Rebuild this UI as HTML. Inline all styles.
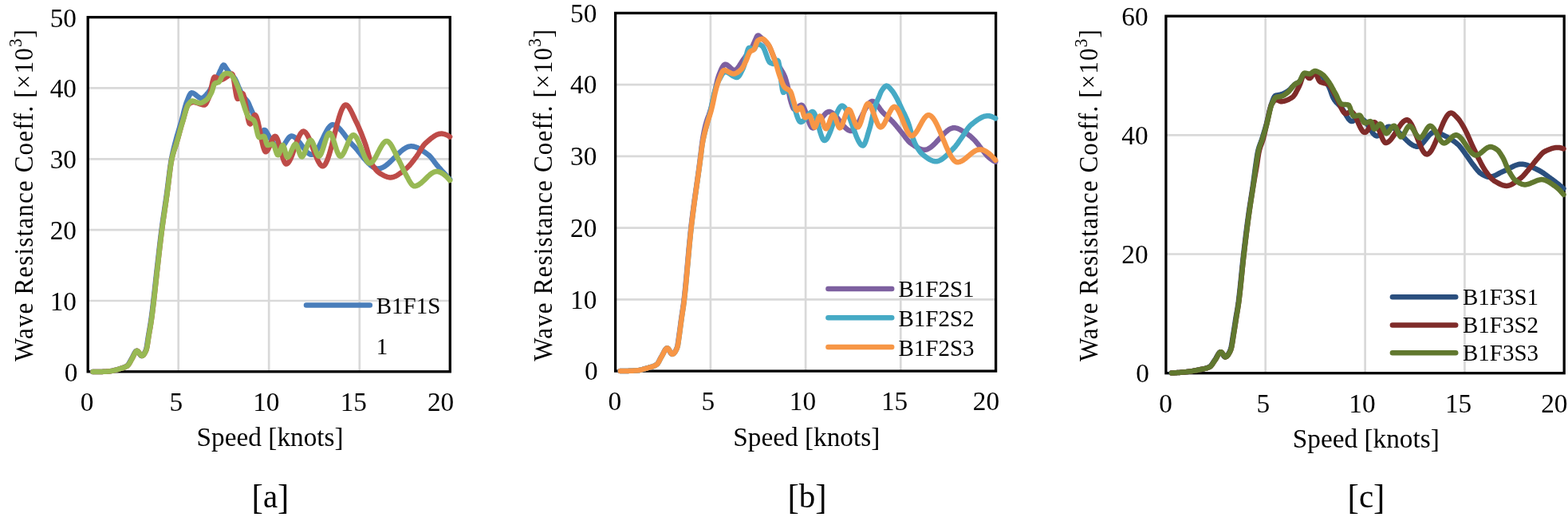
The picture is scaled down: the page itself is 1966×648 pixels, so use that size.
<!DOCTYPE html>
<html><head><meta charset="utf-8"><title>Wave Resistance Coefficient</title>
<style>
html,body{margin:0;padding:0;background:#fff;}
body{width:1966px;height:648px;overflow:hidden;}
svg{display:block;}
text{font-family:"Liberation Serif",serif;fill:#000;}
.tk{font-size:33.3px;}
.ti{font-size:33.3px;}
.yt{font-size:31.7px;letter-spacing:1.17px;}
.lg{font-size:29px;}
.cap{font-size:41px;}
.grid{stroke:#d9d9d9;stroke-width:2.7;fill:none;}
.box{stroke:#000;stroke-width:3.3;fill:none;}
.c{fill:none;stroke-width:6.5;stroke-linecap:round;stroke-linejoin:round;}
</style></head><body>
<svg width="1966" height="648" viewBox="0 0 1966 648">
<rect width="1966" height="648" fill="#fff"/>
<g id="chart-a">
<line class="grid" x1="223.7" y1="21.6" x2="223.7" y2="465.8"/>
<line class="grid" x1="337.2" y1="21.6" x2="337.2" y2="465.8"/>
<line class="grid" x1="450.8" y1="21.6" x2="450.8" y2="465.8"/>
<line class="grid" x1="110.2" y1="377.0" x2="564.3" y2="377.0"/>
<line class="grid" x1="110.2" y1="288.1" x2="564.3" y2="288.1"/>
<line class="grid" x1="110.2" y1="199.3" x2="564.3" y2="199.3"/>
<line class="grid" x1="110.2" y1="110.4" x2="564.3" y2="110.4"/>
<rect class="box" x="110.2" y="21.6" width="454.1" height="444.2"/>
<path class="c" stroke="#4a7ebb" d="M116.0,466.1 L117.0,466.1 L118.0,466.1 L119.0,466.1 L120.0,466.1 L121.0,466.0 L122.0,466.0 L123.0,466.0 L124.0,466.0 L125.0,466.0 L126.0,465.9 L127.0,465.9 L128.0,465.9 L129.0,465.8 L130.0,465.8 L131.0,465.8 L132.0,465.7 L133.0,465.7 L134.0,465.6 L135.0,465.6 L136.0,465.5 L137.0,465.4 L138.0,465.2 L139.0,465.1 L140.0,464.9 L141.0,464.7 L142.0,464.5 L143.0,464.2 L144.0,463.9 L145.0,463.7 L146.0,463.4 L147.0,463.1 L148.0,462.8 L149.0,462.5 L150.0,462.2 L151.0,462.0 L152.0,461.7 L153.0,461.4 L154.0,461.0 L155.0,460.6 L156.0,460.2 L157.0,459.8 L158.0,459.2 L159.0,458.6 L160.0,457.9 L161.0,456.6 L162.0,455.0 L163.0,453.1 L164.0,451.3 L165.0,449.5 L166.0,447.8 L167.0,445.8 L168.0,443.7 L169.0,441.8 L170.0,440.4 L171.0,439.7 L172.0,439.9 L173.0,440.9 L174.0,442.3 L175.0,443.8 L176.0,445.1 L177.0,445.9 L178.0,445.9 L179.0,445.3 L180.0,444.2 L181.0,442.7 L182.0,440.7 L183.0,438.5 L184.0,434.3 L185.0,427.6 L186.0,421.0 L187.0,415.3 L188.0,409.5 L189.0,403.4 L190.0,396.3 L191.0,388.3 L192.0,379.9 L193.0,371.2 L194.0,362.3 L195.0,353.2 L196.0,344.0 L197.0,335.1 L198.0,326.3 L199.0,317.5 L200.0,308.8 L201.0,300.3 L202.0,292.2 L203.0,284.6 L204.0,277.3 L205.0,270.4 L206.0,263.6 L207.0,256.8 L208.0,250.0 L209.0,243.0 L210.0,235.5 L211.0,227.5 L212.0,219.4 L213.0,211.6 L214.0,204.6 L215.0,198.8 L216.0,193.9 L217.0,189.4 L218.0,185.3 L219.0,181.4 L220.0,177.7 L221.0,173.9 L222.0,170.2 L223.0,166.8 L224.0,163.4 L225.0,160.1 L226.0,156.8 L227.0,153.4 L228.0,149.9 L229.0,146.2 L230.0,142.1 L231.0,138.1 L232.0,134.2 L233.0,130.8 L234.0,127.9 L235.0,125.4 L236.0,122.8 L237.0,120.5 L238.0,118.5 L239.0,117.0 L240.0,116.3 L241.0,116.4 L242.0,116.7 L243.0,117.2 L244.0,117.8 L245.0,118.6 L246.0,119.4 L247.0,120.2 L248.0,121.0 L249.0,121.8 L250.0,122.4 L251.0,122.8 L252.0,123.1 L253.0,123.1 L254.0,122.8 L255.0,122.2 L256.0,121.5 L257.0,120.5 L258.0,119.5 L259.0,118.4 L260.0,117.2 L261.0,116.1 L262.0,114.8 L263.0,113.2 L264.0,111.4 L265.0,109.5 L266.0,107.7 L267.0,105.9 L268.0,104.4 L269.0,102.8 L270.0,101.3 L271.0,99.7 L272.0,97.9 L273.0,95.9 L274.0,93.5 L275.0,91.2 L276.0,88.9 L277.0,86.9 L278.0,84.7 L279.0,82.7 L280.0,81.6 L281.0,81.7 L282.0,82.9 L283.0,84.5 L284.0,86.1 L285.0,87.5 L286.0,89.0 L287.0,90.4 L288.0,91.6 L289.0,92.7 L290.0,93.7 L291.0,94.6 L292.0,95.6 L293.0,96.6 L294.0,97.9 L295.0,99.4 L296.0,101.4 L297.0,103.7 L298.0,106.2 L299.0,108.7 L300.0,111.0 L301.0,113.1 L302.0,115.1 L303.0,117.0 L304.0,118.8 L305.0,120.5 L306.0,122.1 L307.0,123.3 L308.0,124.4 L309.0,125.5 L310.0,126.6 L311.0,128.1 L312.0,130.1 L313.0,132.6 L314.0,135.1 L315.0,137.4 L316.0,139.6 L317.0,141.9 L318.0,144.4 L319.0,146.9 L320.0,149.6 L321.0,152.3 L322.0,155.1 L323.0,158.7 L324.0,162.8 L325.0,166.5 L326.0,168.7 L327.0,168.8 L328.0,167.7 L329.0,166.0 L330.0,164.3 L331.0,163.1 L332.0,163.0 L333.0,163.7 L334.0,165.1 L335.0,166.8 L336.0,168.7 L337.0,170.5 L338.0,172.1 L339.0,173.5 L340.0,175.1 L341.1,176.8 L342.1,178.5 L343.1,180.2 L344.1,181.9 L345.1,183.4 L346.1,184.8 L347.1,185.9 L348.1,186.8 L349.1,187.3 L350.1,187.5 L351.1,187.3 L352.1,186.7 L353.1,185.8 L354.1,184.6 L355.1,183.3 L356.1,181.7 L357.1,180.1 L358.1,178.5 L359.1,176.9 L360.1,175.3 L361.1,173.9 L362.1,172.6 L363.1,171.6 L364.1,170.9 L365.1,170.5 L366.1,170.5 L367.1,170.8 L368.1,171.2 L369.1,171.8 L370.1,172.5 L371.1,173.4 L372.1,174.4 L373.1,175.5 L374.1,176.7 L375.1,178.0 L376.1,179.3 L377.1,180.6 L378.1,182.0 L379.1,183.4 L380.1,184.8 L381.1,186.1 L382.1,187.4 L383.1,188.6 L384.1,189.7 L385.1,190.7 L386.1,191.7 L387.1,192.4 L388.1,193.0 L389.1,193.5 L390.1,193.7 L391.1,193.8 L392.1,193.6 L393.1,193.0 L394.1,192.2 L395.1,191.2 L396.1,189.9 L397.1,188.5 L398.1,186.8 L399.1,185.1 L400.1,183.2 L401.1,181.2 L402.1,179.1 L403.1,177.0 L404.1,174.9 L405.1,172.8 L406.1,170.7 L407.1,168.6 L408.1,166.7 L409.1,164.8 L410.1,163.0 L411.1,161.4 L412.1,160.0 L413.1,158.8 L414.1,157.8 L415.1,157.0 L416.1,156.5 L417.1,156.3 L418.1,156.4 L419.1,156.6 L420.1,156.9 L421.1,157.5 L422.1,158.1 L423.1,158.8 L424.1,159.7 L425.1,160.6 L426.1,161.7 L427.1,162.8 L428.1,164.0 L429.1,165.2 L430.1,166.5 L431.1,167.8 L432.1,169.1 L433.1,170.5 L434.1,171.8 L435.1,173.2 L436.1,174.5 L437.1,175.8 L438.1,177.1 L439.1,178.3 L440.1,179.5 L441.1,180.6 L442.1,181.6 L443.1,182.6 L444.1,183.6 L445.1,184.7 L446.1,185.9 L447.1,187.0 L448.1,188.2 L449.1,189.4 L450.1,190.7 L451.1,191.9 L452.1,193.1 L453.1,194.4 L454.1,195.6 L455.1,196.9 L456.1,198.1 L457.1,199.3 L458.1,200.4 L459.1,201.6 L460.1,202.7 L461.1,203.7 L462.1,204.8 L463.1,205.7 L464.1,206.6 L465.1,207.5 L466.1,208.2 L467.1,209.0 L468.1,209.6 L469.1,210.1 L470.1,210.6 L471.1,210.9 L472.1,211.2 L473.1,211.4 L474.1,211.4 L475.1,211.3 L476.1,211.2 L477.1,211.0 L478.1,210.6 L479.1,210.2 L480.1,209.8 L481.1,209.2 L482.1,208.6 L483.1,208.0 L484.1,207.2 L485.1,206.5 L486.1,205.6 L487.1,204.8 L488.1,203.9 L489.1,203.0 L490.1,202.0 L491.1,201.0 L492.1,200.0 L493.1,199.0 L494.1,198.0 L495.1,197.0 L496.1,196.0 L497.1,195.0 L498.1,194.0 L499.1,193.0 L500.1,192.1 L501.1,191.1 L502.1,190.2 L503.1,189.3 L504.1,188.5 L505.1,187.7 L506.1,187.0 L507.1,186.3 L508.1,185.7 L509.1,185.1 L510.1,184.6 L511.1,184.2 L512.1,183.8 L513.1,183.6 L514.1,183.4 L515.1,183.3 L516.1,183.3 L517.1,183.4 L518.1,183.5 L519.1,183.7 L520.1,184.0 L521.1,184.3 L522.1,184.7 L523.1,185.1 L524.1,185.5 L525.1,186.1 L526.1,186.6 L527.1,187.2 L528.1,187.8 L529.1,188.4 L530.1,189.1 L531.1,189.8 L532.1,190.5 L533.1,191.2 L534.1,191.9 L535.1,192.7 L536.1,193.4 L537.1,194.1 L538.1,194.9 L539.1,195.9 L540.1,197.0 L541.1,198.2 L542.1,199.5 L543.1,200.8 L544.1,202.1 L545.1,203.5 L546.1,204.8 L547.1,206.1 L548.1,207.3 L549.1,208.4 L550.1,209.6 L551.1,210.7 L552.1,211.8 L553.1,213.0 L554.1,214.1 L555.1,215.2 L556.1,216.3 L557.1,217.4 L558.1,218.4 L559.1,219.5 L560.1,220.6 L561.1,221.7 L562.1,222.7 L563.1,223.7 L564.1,224.8"/>
<path class="c" stroke="#be4b48" d="M116.5,466.1 L117.5,466.1 L118.5,466.1 L119.5,466.1 L120.5,466.1 L121.5,466.0 L122.5,466.0 L123.5,466.0 L124.5,466.0 L125.5,466.0 L126.5,465.9 L127.5,465.9 L128.5,465.9 L129.5,465.8 L130.5,465.8 L131.5,465.8 L132.5,465.7 L133.5,465.7 L134.5,465.6 L135.5,465.6 L136.5,465.5 L137.5,465.4 L138.5,465.2 L139.5,465.1 L140.5,464.9 L141.5,464.7 L142.5,464.4 L143.5,464.2 L144.5,463.9 L145.5,463.7 L146.5,463.4 L147.5,463.1 L148.5,462.8 L149.5,462.5 L150.5,462.2 L151.5,461.9 L152.5,461.6 L153.5,461.3 L154.6,461.0 L155.6,460.6 L156.6,460.2 L157.6,459.7 L158.6,459.2 L159.6,458.6 L160.6,457.8 L161.6,456.5 L162.6,454.9 L163.6,453.1 L164.6,451.2 L165.6,449.5 L166.6,447.7 L167.6,445.6 L168.6,443.6 L169.6,441.8 L170.6,440.4 L171.6,439.7 L172.6,440.0 L173.6,441.0 L174.6,442.4 L175.6,443.9 L176.6,445.2 L177.6,445.9 L178.6,445.9 L179.6,445.3 L180.6,444.1 L181.6,442.5 L182.6,440.6 L183.6,438.3 L184.6,433.9 L185.6,427.1 L186.6,420.6 L187.6,414.8 L188.6,409.1 L189.6,402.8 L190.6,395.7 L191.6,387.6 L192.6,379.1 L193.6,370.5 L194.6,361.5 L195.6,352.4 L196.6,343.2 L197.6,334.3 L198.6,325.5 L199.6,316.7 L200.6,308.0 L201.6,299.5 L202.6,291.4 L203.6,283.8 L204.6,276.6 L205.6,269.7 L206.6,262.9 L207.6,256.2 L208.6,249.3 L209.6,242.2 L210.6,234.6 L211.6,226.3 L212.6,218.0 L213.6,210.3 L214.6,203.6 L215.6,198.5 L216.6,194.4 L217.6,190.8 L218.6,187.6 L219.6,184.7 L220.6,181.7 L221.6,178.6 L222.6,175.2 L223.6,171.6 L224.6,167.9 L225.6,164.2 L226.6,160.6 L227.6,157.0 L228.7,153.5 L229.7,150.2 L230.7,146.6 L231.7,142.9 L232.7,139.3 L233.7,136.0 L234.7,133.3 L235.7,131.5 L236.7,130.5 L237.7,129.8 L238.7,129.1 L239.7,128.6 L240.7,128.2 L241.7,128.0 L242.7,128.0 L243.7,128.1 L244.7,128.3 L245.7,128.6 L246.7,128.9 L247.7,129.2 L248.7,129.6 L249.7,129.9 L250.7,130.3 L251.7,130.6 L252.7,130.9 L253.7,131.2 L254.7,131.4 L255.7,131.5 L256.7,131.4 L257.7,130.7 L258.7,129.2 L259.7,127.3 L260.7,125.0 L261.7,122.7 L262.7,120.0 L263.7,116.0 L264.7,111.3 L265.7,106.3 L266.7,101.8 L267.7,98.4 L268.7,96.6 L269.7,96.6 L270.7,96.9 L271.7,97.4 L272.7,98.1 L273.7,98.7 L274.7,99.3 L275.7,99.8 L276.7,100.0 L277.7,99.9 L278.7,99.7 L279.7,99.2 L280.7,98.6 L281.7,98.0 L282.7,97.3 L283.7,96.6 L284.7,96.0 L285.7,95.4 L286.7,94.7 L287.7,94.0 L288.7,93.3 L289.7,92.8 L290.7,92.5 L291.7,93.5 L292.7,97.4 L293.7,103.2 L294.7,109.9 L295.7,116.3 L296.7,121.3 L297.7,123.9 L298.7,123.7 L299.7,122.6 L300.7,120.9 L301.7,119.2 L302.7,117.8 L303.8,117.0 L304.8,117.7 L305.8,120.5 L306.8,124.8 L307.8,130.3 L308.8,136.3 L309.8,142.3 L310.8,147.7 L311.8,152.1 L312.8,154.8 L313.8,155.4 L314.8,154.2 L315.8,151.9 L316.8,149.1 L317.8,146.5 L318.8,144.6 L319.8,144.0 L320.8,145.0 L321.8,147.2 L322.8,150.4 L323.8,154.4 L324.8,159.0 L325.8,164.0 L326.8,169.1 L327.8,174.1 L328.8,178.8 L329.8,183.0 L330.8,186.4 L331.8,188.9 L332.8,190.2 L333.8,190.2 L334.8,189.3 L335.8,187.9 L336.8,186.0 L337.8,183.7 L338.8,181.3 L339.8,178.8 L340.8,176.5 L341.8,174.3 L342.8,172.6 L343.8,171.4 L344.8,170.8 L345.8,171.1 L346.8,172.4 L347.8,174.5 L348.8,177.2 L349.8,180.4 L350.8,184.0 L351.8,187.7 L352.8,191.4 L353.8,195.0 L354.8,198.4 L355.8,201.2 L356.8,203.5 L357.8,205.0 L358.8,205.6 L359.8,205.4 L360.8,204.7 L361.8,203.5 L362.8,202.0 L363.8,200.1 L364.8,198.0 L365.8,195.6 L366.8,193.0 L367.8,190.2 L368.8,187.4 L369.8,184.6 L370.8,181.7 L371.8,178.9 L372.8,176.2 L373.8,173.7 L374.8,171.4 L375.8,169.3 L376.8,167.6 L377.9,166.2 L378.9,165.2 L379.9,164.7 L380.9,164.6 L381.9,165.1 L382.9,165.8 L383.9,167.0 L384.9,168.5 L385.9,170.2 L386.9,172.2 L387.9,174.4 L388.9,176.8 L389.9,179.3 L390.9,181.9 L391.9,184.6 L392.9,187.3 L393.9,190.0 L394.9,192.6 L395.9,195.2 L396.9,197.6 L397.9,199.9 L398.9,202.0 L399.9,203.8 L400.9,205.4 L401.9,206.7 L402.9,207.6 L403.9,208.2 L404.9,208.3 L405.9,207.9 L406.9,207.0 L407.9,205.7 L408.9,203.9 L409.9,201.7 L410.9,199.2 L411.9,196.3 L412.9,193.2 L413.9,189.8 L414.9,186.2 L415.9,182.5 L416.9,178.6 L417.9,174.6 L418.9,170.6 L419.9,166.6 L420.9,162.6 L421.9,158.7 L422.9,154.9 L423.9,151.3 L424.9,147.8 L425.9,144.6 L426.9,141.6 L427.9,138.9 L428.9,136.6 L429.9,134.7 L430.9,133.1 L431.9,132.1 L432.9,131.5 L433.9,131.4 L434.9,131.8 L435.9,132.6 L436.9,133.7 L437.9,135.1 L438.9,136.8 L439.9,138.6 L440.9,140.6 L441.9,142.7 L442.9,144.9 L443.9,147.0 L444.9,149.2 L445.9,151.3 L446.9,153.3 L447.9,155.3 L448.9,157.5 L449.9,159.8 L450.9,162.2 L451.9,164.6 L453.0,167.1 L454.0,169.7 L455.0,172.3 L456.0,175.0 L457.0,177.7 L458.0,180.4 L459.0,183.4 L460.0,186.7 L461.0,190.2 L462.0,193.7 L463.0,197.0 L464.0,200.1 L465.0,202.7 L466.0,204.8 L467.0,206.6 L468.0,208.2 L469.0,209.7 L470.0,211.1 L471.0,212.4 L472.0,213.5 L473.0,214.6 L474.0,215.5 L475.0,216.3 L476.0,217.0 L477.0,217.6 L478.0,218.2 L479.0,218.8 L480.0,219.3 L481.0,219.9 L482.0,220.4 L483.0,220.8 L484.0,221.2 L485.0,221.6 L486.0,221.9 L487.0,222.1 L488.0,222.3 L489.0,222.4 L490.0,222.4 L491.0,222.3 L492.0,222.2 L493.0,221.9 L494.0,221.6 L495.0,221.2 L496.0,220.8 L497.0,220.3 L498.0,219.7 L499.0,219.1 L500.0,218.4 L501.0,217.7 L502.0,217.0 L503.0,216.3 L504.0,215.5 L505.0,214.7 L506.0,213.9 L507.0,213.1 L508.0,212.3 L509.0,211.5 L510.0,210.7 L511.0,209.8 L512.0,208.8 L513.0,207.8 L514.0,206.7 L515.0,205.5 L516.0,204.3 L517.0,203.0 L518.0,201.7 L519.0,200.4 L520.0,199.1 L521.0,197.7 L522.0,196.4 L523.0,195.0 L524.0,193.5 L525.0,191.9 L526.0,190.2 L527.1,188.5 L528.1,186.8 L529.1,185.1 L530.1,183.6 L531.1,182.2 L532.1,181.0 L533.1,179.9 L534.1,179.0 L535.1,178.1 L536.1,177.2 L537.1,176.4 L538.1,175.5 L539.1,174.6 L540.1,173.8 L541.1,173.0 L542.1,172.3 L543.1,171.6 L544.1,170.9 L545.1,170.3 L546.1,169.7 L547.1,169.2 L548.1,168.7 L549.1,168.4 L550.1,168.0 L551.1,167.8 L552.1,167.7 L553.1,167.6 L554.1,167.6 L555.1,167.7 L556.1,167.9 L557.1,168.1 L558.1,168.4 L559.1,168.8 L560.1,169.2 L561.1,169.7 L562.1,170.2 L563.1,170.8 L564.1,171.5"/>
<path class="c" stroke="#98b954" d="M116.5,466.1 L117.5,466.1 L118.5,466.1 L119.5,466.1 L120.5,466.1 L121.5,466.0 L122.5,466.0 L123.5,466.0 L124.5,466.0 L125.5,466.0 L126.5,465.9 L127.5,465.9 L128.5,465.9 L129.5,465.8 L130.5,465.8 L131.5,465.8 L132.5,465.7 L133.5,465.7 L134.5,465.6 L135.5,465.6 L136.5,465.5 L137.5,465.4 L138.5,465.2 L139.5,465.1 L140.5,464.9 L141.5,464.7 L142.5,464.4 L143.5,464.2 L144.5,463.9 L145.5,463.7 L146.5,463.4 L147.5,463.1 L148.5,462.8 L149.5,462.5 L150.5,462.2 L151.5,461.9 L152.5,461.6 L153.5,461.3 L154.6,461.0 L155.6,460.6 L156.6,460.2 L157.6,459.7 L158.6,459.2 L159.6,458.6 L160.6,457.8 L161.6,456.5 L162.6,454.9 L163.6,453.1 L164.6,451.2 L165.6,449.5 L166.6,447.7 L167.6,445.6 L168.6,443.6 L169.6,441.8 L170.6,440.4 L171.6,439.7 L172.6,440.0 L173.6,441.0 L174.6,442.4 L175.6,443.9 L176.6,445.2 L177.6,445.9 L178.6,445.9 L179.6,445.3 L180.6,444.1 L181.6,442.5 L182.6,440.6 L183.6,438.3 L184.6,433.9 L185.6,427.1 L186.6,420.6 L187.6,414.8 L188.6,409.1 L189.6,402.8 L190.6,395.7 L191.6,387.6 L192.6,379.1 L193.6,370.5 L194.6,361.5 L195.6,352.4 L196.6,343.2 L197.6,334.3 L198.6,325.5 L199.6,316.7 L200.6,308.0 L201.6,299.5 L202.6,291.4 L203.6,283.8 L204.6,276.6 L205.6,269.7 L206.6,262.9 L207.6,256.2 L208.6,249.3 L209.6,242.2 L210.6,234.6 L211.6,226.3 L212.6,218.0 L213.6,210.3 L214.6,203.6 L215.6,198.5 L216.6,194.4 L217.6,190.8 L218.6,187.6 L219.6,184.7 L220.6,181.7 L221.6,178.6 L222.6,175.2 L223.6,171.6 L224.6,167.9 L225.6,164.2 L226.6,160.6 L227.6,157.0 L228.7,153.5 L229.7,150.2 L230.7,146.7 L231.7,143.0 L232.7,139.5 L233.7,136.3 L234.7,133.5 L235.7,131.5 L236.7,130.1 L237.7,128.9 L238.7,127.8 L239.7,127.0 L240.7,126.6 L241.7,126.6 L242.7,126.8 L243.7,127.1 L244.7,127.5 L245.7,127.9 L246.7,128.3 L247.7,128.6 L248.7,128.9 L249.7,129.1 L250.7,129.2 L251.7,129.1 L252.7,128.8 L253.7,128.4 L254.7,127.9 L255.7,127.4 L256.7,126.7 L257.7,126.0 L258.7,125.2 L259.7,124.4 L260.7,123.3 L261.7,122.0 L262.7,120.5 L263.7,118.8 L264.7,116.9 L265.7,114.9 L266.7,111.7 L267.7,108.0 L268.7,105.3 L269.7,104.5 L270.7,104.0 L271.7,103.8 L272.7,103.5 L273.7,103.2 L274.7,102.6 L275.7,101.3 L276.7,99.2 L277.7,97.0 L278.7,95.2 L279.7,94.2 L280.7,93.4 L281.7,92.6 L282.7,92.2 L283.7,92.0 L284.7,92.0 L285.7,92.1 L286.7,92.3 L287.7,92.4 L288.7,92.7 L289.7,93.5 L290.7,94.6 L291.7,96.0 L292.7,97.6 L293.7,99.2 L294.7,100.9 L295.7,102.9 L296.7,105.2 L297.7,107.6 L298.7,110.2 L299.7,112.9 L300.7,115.9 L301.7,119.2 L302.7,122.6 L303.8,125.8 L304.8,129.0 L305.8,132.1 L306.8,135.1 L307.8,138.1 L308.8,140.8 L309.8,143.5 L310.8,145.7 L311.8,146.8 L312.8,147.6 L313.8,148.2 L314.8,148.7 L315.8,149.2 L316.8,149.8 L317.8,150.5 L318.8,151.6 L319.8,154.2 L320.8,158.2 L321.8,162.9 L322.8,167.3 L323.8,170.7 L324.8,172.2 L325.8,172.1 L326.8,171.9 L327.8,171.6 L328.8,171.2 L329.8,171.0 L330.8,170.8 L331.8,171.6 L332.8,174.8 L333.8,178.7 L334.8,181.5 L335.8,182.0 L336.8,181.8 L337.8,181.6 L338.8,181.3 L339.8,181.0 L340.8,180.7 L341.8,180.6 L342.8,181.0 L343.8,182.8 L344.8,185.7 L345.8,189.0 L346.8,192.0 L347.8,193.9 L348.8,194.3 L349.8,193.0 L350.8,190.5 L351.8,187.6 L352.8,184.7 L353.8,182.7 L354.8,182.0 L355.8,183.6 L356.8,186.9 L357.8,190.9 L358.8,194.6 L359.8,196.9 L360.8,197.1 L361.8,196.2 L362.8,194.7 L363.8,192.8 L364.8,190.5 L365.8,188.1 L366.8,185.8 L367.8,183.7 L368.8,182.0 L369.8,180.9 L370.8,180.6 L371.8,181.6 L372.8,183.7 L373.8,186.5 L374.8,189.6 L375.8,192.6 L376.8,195.0 L377.9,196.3 L378.9,196.4 L379.9,195.4 L380.9,193.7 L381.9,191.5 L382.9,188.9 L383.9,186.1 L384.9,183.3 L385.9,180.7 L386.9,178.5 L387.9,176.8 L388.9,175.8 L389.9,175.8 L390.9,176.8 L391.9,178.5 L392.9,180.8 L393.9,183.5 L394.9,186.4 L395.9,189.2 L396.9,191.8 L397.9,193.8 L398.9,195.3 L399.9,195.8 L400.9,195.3 L401.9,194.0 L402.9,192.0 L403.9,189.4 L404.9,186.5 L405.9,183.3 L406.9,180.0 L407.9,176.7 L408.9,173.7 L409.9,171.0 L410.9,168.9 L411.9,167.4 L412.9,166.7 L413.9,167.0 L414.9,168.1 L415.9,169.9 L416.9,172.2 L417.9,175.0 L418.9,178.0 L419.9,181.2 L420.9,184.4 L421.9,187.5 L422.9,190.3 L423.9,192.6 L424.9,194.5 L425.9,195.6 L426.9,196.0 L427.9,195.6 L428.9,194.8 L429.9,193.4 L430.9,191.7 L431.9,189.7 L432.9,187.5 L433.9,185.1 L434.9,182.7 L435.9,180.2 L436.9,177.8 L437.9,175.6 L438.9,173.6 L439.9,171.8 L440.9,170.5 L441.9,169.6 L442.9,169.2 L443.9,169.4 L444.9,170.0 L445.9,171.1 L446.9,172.5 L447.9,174.2 L448.9,176.3 L449.9,178.5 L450.9,180.9 L451.9,183.4 L453.0,186.0 L454.0,188.6 L455.0,191.2 L456.0,193.7 L457.0,196.0 L458.0,198.2 L459.0,200.1 L460.0,201.8 L461.0,203.1 L462.0,204.0 L463.0,204.5 L464.0,204.6 L465.0,204.2 L466.0,203.6 L467.0,202.6 L468.0,201.5 L469.0,200.1 L470.0,198.5 L471.0,196.8 L472.0,194.9 L473.0,193.0 L474.0,191.1 L475.0,189.1 L476.0,187.2 L477.0,185.4 L478.0,183.6 L479.0,182.0 L480.0,180.5 L481.0,179.2 L482.0,178.2 L483.0,177.5 L484.0,177.0 L485.0,176.9 L486.0,177.2 L487.0,177.7 L488.0,178.6 L489.0,179.8 L490.0,181.1 L491.0,182.7 L492.0,184.5 L493.0,186.4 L494.0,188.4 L495.0,190.4 L496.0,192.5 L497.0,194.7 L498.0,196.7 L499.0,198.8 L500.0,200.7 L501.0,202.6 L502.0,204.6 L503.0,206.7 L504.0,208.9 L505.0,211.2 L506.0,213.3 L507.0,215.4 L508.0,217.2 L509.0,218.9 L510.0,220.8 L511.0,222.6 L512.0,224.5 L513.0,226.3 L514.0,228.0 L515.0,229.6 L516.0,230.9 L517.0,232.0 L518.0,232.8 L519.0,233.2 L520.0,233.3 L521.0,233.2 L522.0,232.9 L523.0,232.5 L524.0,232.0 L525.0,231.5 L526.0,230.8 L527.1,230.1 L528.1,229.3 L529.1,228.4 L530.1,227.5 L531.1,226.5 L532.1,225.6 L533.1,224.6 L534.1,223.6 L535.1,222.6 L536.1,221.6 L537.1,220.7 L538.1,219.8 L539.1,218.9 L540.1,218.1 L541.1,217.4 L542.1,216.8 L543.1,216.2 L544.1,215.7 L545.1,215.4 L546.1,215.1 L547.1,215.0 L548.1,215.0 L549.1,215.1 L550.1,215.3 L551.1,215.6 L552.1,216.0 L553.1,216.5 L554.1,217.0 L555.1,217.6 L556.1,218.3 L557.1,219.1 L558.1,219.9 L559.1,220.8 L560.1,221.7 L561.1,222.7 L562.1,223.8 L563.1,224.9 L564.1,226.1"/>
<line class="c" style="stroke-width:6.5" stroke="#4a7ebb" x1="384" y1="382.4" x2="463.8" y2="382.4"/>
<text class="lg" transform="translate(471.7,393.0) scale(1,1.035)">B1F1S</text>
<text class="lg" transform="translate(471.7,443.7) scale(1,1.035)">1</text>
<text class="tk" transform="translate(97.4,477.8) scale(1,1.04)" text-anchor="end">0</text>
<text class="tk" transform="translate(96.0,389.0) scale(1,1.04)" text-anchor="end">10</text>
<text class="tk" transform="translate(96.0,300.1) scale(1,1.04)" text-anchor="end">20</text>
<text class="tk" transform="translate(96.0,211.3) scale(1,1.04)" text-anchor="end">30</text>
<text class="tk" transform="translate(96.0,122.4) scale(1,1.04)" text-anchor="end">40</text>
<text class="tk" transform="translate(96.0,33.6) scale(1,1.04)" text-anchor="end">50</text>
<text class="tk" transform="translate(109.1,514.8) scale(1,1.04)" text-anchor="middle">0</text>
<text class="tk" transform="translate(220.9,514.8) scale(1,1.04)" text-anchor="middle">5</text>
<text class="tk" transform="translate(333.8,514.8) scale(1,1.04)" text-anchor="middle">10</text>
<text class="tk" transform="translate(443.3,514.8) scale(1,1.04)" text-anchor="middle">15</text>
<text class="tk" transform="translate(552.6,514.8) scale(1,1.04)" text-anchor="middle">20</text>
<text class="ti" transform="translate(338.6,559.1) scale(1,1.03)" text-anchor="middle">Speed [knots]</text>
<text class="yt" transform="translate(40.5,244.45) rotate(-90) scale(0.98,1.05)" text-anchor="middle">Wave Resistance Coeff. [×10<tspan dy="-13" style="font-size:21.5px">3</tspan><tspan dy="13">]</tspan></text>
<text class="cap" transform="translate(339.0,635.9) scale(1,1.05)" text-anchor="middle"><tspan dy="1.7" style="font-size:43px">[</tspan><tspan dy="-1.7">a</tspan><tspan dy="1.7" style="font-size:43px">]</tspan></text>
</g>
<g id="chart-b">
<line class="grid" x1="890.9" y1="16.4" x2="890.9" y2="465.1"/>
<line class="grid" x1="1010.1" y1="16.4" x2="1010.1" y2="465.1"/>
<line class="grid" x1="1129.3" y1="16.4" x2="1129.3" y2="465.1"/>
<line class="grid" x1="771.6" y1="375.4" x2="1248.6" y2="375.4"/>
<line class="grid" x1="771.6" y1="285.6" x2="1248.6" y2="285.6"/>
<line class="grid" x1="771.6" y1="195.9" x2="1248.6" y2="195.9"/>
<line class="grid" x1="771.6" y1="106.1" x2="1248.6" y2="106.1"/>
<rect class="box" x="771.6" y="16.4" width="477.0" height="448.7"/>
<path class="c" stroke="#7d60a0" d="M777.5,465.0 L778.5,465.0 L779.5,465.0 L780.5,465.0 L781.5,465.0 L782.5,465.0 L783.5,464.9 L784.5,464.9 L785.5,464.9 L786.5,464.9 L787.5,464.9 L788.5,464.8 L789.5,464.8 L790.5,464.8 L791.5,464.7 L792.5,464.7 L793.5,464.7 L794.5,464.6 L795.5,464.6 L796.5,464.5 L797.5,464.5 L798.5,464.4 L799.5,464.3 L800.5,464.2 L801.5,464.0 L802.5,463.8 L803.5,463.6 L804.5,463.3 L805.5,463.0 L806.5,462.7 L807.5,462.4 L808.5,462.1 L809.5,461.8 L810.5,461.5 L811.6,461.3 L812.6,461.0 L813.6,460.7 L814.6,460.4 L815.6,460.2 L816.6,459.9 L817.6,459.6 L818.6,459.2 L819.6,458.8 L820.6,458.4 L821.6,457.9 L822.6,457.3 L823.6,456.6 L824.6,455.5 L825.6,453.9 L826.6,452.0 L827.6,450.0 L828.6,448.1 L829.6,446.4 L830.6,444.6 L831.6,442.7 L832.6,440.7 L833.6,438.9 L834.6,437.5 L835.6,436.6 L836.6,436.3 L837.6,437.0 L838.6,438.5 L839.6,440.3 L840.6,442.0 L841.6,443.4 L842.6,443.9 L843.6,443.7 L844.6,443.0 L845.6,441.8 L846.6,440.3 L847.6,438.5 L848.6,436.3 L849.6,432.8 L850.6,426.1 L851.6,418.8 L852.6,411.6 L853.6,403.9 L854.6,396.6 L855.6,390.1 L856.6,383.6 L857.6,375.8 L858.6,366.8 L859.6,356.8 L860.6,346.2 L861.6,335.2 L862.6,324.0 L863.6,312.9 L864.6,302.2 L865.6,292.2 L866.6,283.0 L867.6,274.6 L868.6,266.7 L869.6,259.1 L870.6,251.8 L871.6,244.7 L872.6,237.7 L873.6,230.7 L874.6,223.7 L875.6,216.4 L876.6,209.0 L877.6,201.2 L878.7,192.6 L879.7,183.6 L880.7,176.4 L881.7,170.4 L882.7,165.2 L883.7,160.5 L884.7,156.3 L885.7,152.8 L886.7,149.7 L887.7,146.9 L888.7,144.3 L889.7,141.4 L890.7,138.3 L891.7,134.6 L892.7,130.5 L893.7,126.2 L894.7,121.7 L895.7,117.1 L896.7,112.7 L897.7,108.3 L898.7,103.7 L899.7,99.4 L900.7,96.2 L901.7,93.5 L902.7,90.9 L903.7,88.4 L904.7,86.2 L905.7,84.2 L906.7,82.6 L907.7,81.5 L908.7,80.8 L909.7,80.7 L910.7,81.0 L911.7,81.5 L912.7,82.2 L913.7,83.0 L914.7,83.9 L915.7,84.9 L916.7,85.8 L917.7,86.6 L918.7,87.3 L919.7,87.8 L920.7,88.0 L921.7,87.9 L922.7,87.4 L923.7,86.7 L924.7,85.6 L925.7,84.3 L926.7,82.9 L927.7,81.3 L928.7,79.7 L929.7,78.1 L930.7,76.5 L931.7,75.0 L932.7,73.7 L933.7,72.3 L934.7,70.8 L935.7,69.3 L936.7,67.8 L937.7,66.4 L938.7,65.0 L939.7,63.7 L940.7,62.4 L941.7,61.0 L942.7,59.4 L943.7,57.5 L944.7,55.2 L945.8,52.8 L946.8,50.5 L947.8,48.4 L948.8,46.1 L949.8,44.6 L950.8,44.4 L951.8,45.0 L952.8,45.9 L953.8,46.8 L954.8,47.6 L955.8,48.5 L956.8,49.3 L957.8,50.3 L958.8,51.2 L959.8,52.2 L960.8,53.2 L961.8,54.3 L962.8,55.5 L963.8,56.9 L964.8,58.7 L965.8,60.8 L966.8,63.2 L967.8,65.7 L968.8,68.3 L969.8,70.7 L970.8,73.0 L971.8,74.9 L972.8,76.7 L973.8,78.3 L974.8,79.9 L975.8,81.4 L976.8,83.0 L977.8,84.7 L978.8,86.3 L979.8,88.0 L980.8,89.6 L981.8,91.4 L982.8,93.3 L983.8,95.5 L984.8,98.2 L985.8,101.5 L986.8,105.2 L987.8,109.2 L988.8,113.8 L989.8,119.3 L990.8,124.4 L991.8,128.0 L992.8,131.1 L993.8,133.9 L994.8,136.0 L995.8,137.0 L996.8,136.9 L997.8,136.4 L998.8,135.8 L999.8,134.9 L1000.8,134.1 L1001.8,133.2 L1002.8,132.5 L1003.8,131.9 L1004.8,131.7 L1005.8,132.0 L1006.8,133.1 L1007.8,134.8 L1008.8,137.1 L1009.8,139.7 L1010.8,142.7 L1011.8,145.7 L1012.9,148.8 L1013.9,151.8 L1014.9,154.5 L1015.9,156.9 L1016.9,158.7 L1017.9,159.9 L1018.9,160.4 L1019.9,160.3 L1020.9,159.9 L1021.9,159.2 L1022.9,158.4 L1023.9,157.4 L1024.9,156.2 L1025.9,154.9 L1026.9,153.5 L1027.9,152.0 L1028.9,150.5 L1029.9,149.0 L1030.9,147.6 L1031.9,146.1 L1032.9,144.8 L1033.9,143.6 L1034.9,142.5 L1035.9,141.5 L1036.9,140.8 L1037.9,140.3 L1038.9,140.0 L1039.9,140.0 L1040.9,140.2 L1041.9,140.6 L1042.9,141.1 L1043.9,141.8 L1044.9,142.5 L1045.9,143.4 L1046.9,144.4 L1047.9,145.5 L1048.9,146.7 L1049.9,147.9 L1050.9,149.1 L1051.9,150.4 L1052.9,151.7 L1053.9,153.0 L1054.9,154.3 L1055.9,155.5 L1056.9,156.8 L1057.9,158.0 L1058.9,159.1 L1059.9,160.1 L1060.9,161.0 L1061.9,161.9 L1062.9,162.6 L1063.9,163.2 L1064.9,163.6 L1065.9,163.9 L1066.9,164.0 L1067.9,163.9 L1068.9,163.5 L1069.9,162.8 L1070.9,161.9 L1071.9,160.7 L1072.9,159.4 L1073.9,157.9 L1074.9,156.2 L1075.9,154.4 L1076.9,152.6 L1077.9,150.6 L1078.9,148.6 L1079.9,146.5 L1081.0,144.5 L1082.0,142.4 L1083.0,140.4 L1084.0,138.4 L1085.0,136.5 L1086.0,134.8 L1087.0,133.1 L1088.0,131.6 L1089.0,130.3 L1090.0,129.1 L1091.0,128.2 L1092.0,127.5 L1093.0,127.1 L1094.0,127.0 L1095.0,127.2 L1096.0,127.7 L1097.0,128.4 L1098.0,129.3 L1099.0,130.5 L1100.0,131.7 L1101.0,133.1 L1102.0,134.5 L1103.0,135.9 L1104.0,137.3 L1105.0,138.7 L1106.0,139.9 L1107.0,141.0 L1108.0,142.0 L1109.0,142.9 L1110.0,143.9 L1111.0,144.8 L1112.0,145.7 L1113.0,146.6 L1114.0,147.6 L1115.0,148.5 L1116.0,149.4 L1117.0,150.4 L1118.0,151.3 L1119.0,152.4 L1120.0,153.4 L1121.0,154.5 L1122.0,155.6 L1123.0,156.8 L1124.0,158.0 L1125.0,159.3 L1126.0,160.5 L1127.0,161.7 L1128.0,163.0 L1129.0,164.2 L1130.0,165.5 L1131.0,166.7 L1132.0,167.9 L1133.0,169.2 L1134.0,170.6 L1135.0,171.9 L1136.0,173.2 L1137.0,174.5 L1138.0,175.7 L1139.0,176.9 L1140.0,177.9 L1141.0,178.8 L1142.0,179.5 L1143.0,180.2 L1144.0,181.0 L1145.0,181.7 L1146.0,182.4 L1147.0,183.1 L1148.1,183.7 L1149.1,184.3 L1150.1,184.9 L1151.1,185.5 L1152.1,186.0 L1153.1,186.4 L1154.1,186.8 L1155.1,187.2 L1156.1,187.4 L1157.1,187.6 L1158.1,187.8 L1159.1,187.8 L1160.1,187.7 L1161.1,187.6 L1162.1,187.3 L1163.1,186.9 L1164.1,186.4 L1165.1,185.8 L1166.1,185.2 L1167.1,184.5 L1168.1,183.7 L1169.1,182.8 L1170.1,181.9 L1171.1,181.0 L1172.1,180.0 L1173.1,179.0 L1174.1,177.9 L1175.1,176.8 L1176.1,175.7 L1177.1,174.6 L1178.1,173.5 L1179.1,172.4 L1180.1,171.3 L1181.1,170.2 L1182.1,169.2 L1183.1,168.1 L1184.1,167.1 L1185.1,166.2 L1186.1,165.3 L1187.1,164.4 L1188.1,163.6 L1189.1,162.9 L1190.1,162.2 L1191.1,161.7 L1192.1,161.2 L1193.1,160.8 L1194.1,160.5 L1195.1,160.3 L1196.1,160.2 L1197.1,160.2 L1198.1,160.4 L1199.1,160.6 L1200.1,160.9 L1201.1,161.2 L1202.1,161.7 L1203.1,162.1 L1204.1,162.6 L1205.1,163.2 L1206.1,163.8 L1207.1,164.3 L1208.1,164.9 L1209.1,165.5 L1210.1,166.1 L1211.1,166.7 L1212.1,167.3 L1213.1,168.0 L1214.1,168.8 L1215.2,169.6 L1216.2,170.4 L1217.2,171.2 L1218.2,172.1 L1219.2,173.1 L1220.2,174.0 L1221.2,175.0 L1222.2,176.0 L1223.2,177.1 L1224.2,178.3 L1225.2,179.5 L1226.2,180.8 L1227.2,182.1 L1228.2,183.4 L1229.2,184.7 L1230.2,186.0 L1231.2,187.2 L1232.2,188.4 L1233.2,189.7 L1234.2,191.0 L1235.2,192.3 L1236.2,193.5 L1237.2,194.7 L1238.2,195.8 L1239.2,196.8 L1240.2,197.7 L1241.2,198.4 L1242.2,199.2 L1243.2,199.9 L1244.2,200.6 L1245.2,201.3 L1246.2,201.9 L1247.2,202.4 L1248.2,202.8"/>
<path class="c" stroke="#46aac5" d="M777.8,465.0 L778.8,465.0 L779.8,465.0 L780.8,465.0 L781.8,465.0 L782.8,465.0 L783.8,464.9 L784.8,464.9 L785.8,464.9 L786.8,464.9 L787.8,464.9 L788.8,464.8 L789.8,464.8 L790.8,464.8 L791.8,464.7 L792.8,464.7 L793.8,464.7 L794.8,464.6 L795.8,464.6 L796.8,464.5 L797.8,464.5 L798.8,464.4 L799.8,464.3 L800.8,464.2 L801.8,464.0 L802.8,463.8 L803.8,463.6 L804.8,463.3 L805.8,463.0 L806.8,462.7 L807.8,462.4 L808.8,462.2 L809.8,461.9 L810.8,461.6 L811.8,461.3 L812.8,461.0 L813.8,460.7 L814.8,460.4 L815.8,460.2 L816.8,459.9 L817.8,459.6 L818.8,459.2 L819.8,458.8 L820.8,458.4 L821.8,457.9 L822.8,457.3 L823.8,456.6 L824.8,455.5 L825.8,453.9 L826.8,452.0 L827.8,450.1 L828.8,448.2 L829.8,446.5 L830.8,444.7 L831.8,442.8 L832.8,440.8 L833.8,439.0 L834.8,437.5 L835.8,436.6 L836.9,436.3 L837.9,437.0 L838.9,438.4 L839.9,440.2 L840.9,442.0 L841.9,443.3 L842.9,443.9 L843.9,443.7 L844.9,443.0 L845.9,441.9 L846.9,440.4 L847.9,438.5 L848.9,436.4 L849.9,433.0 L850.9,426.5 L851.9,419.2 L852.9,411.9 L853.9,404.3 L854.9,397.0 L855.9,390.5 L856.9,383.9 L857.9,376.2 L858.9,367.3 L859.9,357.4 L860.9,346.8 L861.9,335.8 L862.9,324.6 L863.9,313.5 L864.9,302.8 L865.9,292.7 L866.9,283.5 L867.9,275.1 L868.9,267.0 L869.9,259.3 L870.9,251.8 L871.9,244.6 L872.9,237.4 L873.9,230.4 L874.9,223.3 L875.9,216.2 L876.9,209.0 L877.9,201.6 L878.9,193.7 L879.9,185.6 L880.9,178.9 L881.9,173.8 L882.9,169.3 L883.9,165.3 L884.9,161.5 L885.9,157.8 L886.9,153.9 L887.9,150.2 L888.9,146.7 L889.9,143.0 L890.9,139.1 L891.9,134.5 L892.9,129.4 L893.9,124.4 L894.9,120.1 L895.9,116.0 L896.9,112.3 L897.9,109.1 L898.9,106.3 L899.9,103.8 L900.9,101.5 L901.9,99.6 L902.9,97.8 L903.9,95.9 L904.9,94.1 L905.9,92.5 L906.9,91.2 L907.9,90.4 L908.9,90.0 L909.9,90.1 L910.9,90.3 L911.9,90.7 L912.9,91.2 L913.9,91.8 L914.9,92.4 L915.9,93.1 L916.9,93.8 L917.9,94.5 L918.9,95.1 L919.9,95.7 L920.9,96.2 L921.9,96.6 L922.9,96.9 L923.9,97.0 L924.9,96.8 L925.9,96.0 L926.9,94.8 L927.9,93.2 L928.9,91.4 L929.9,89.4 L930.9,87.3 L931.9,85.1 L932.9,82.4 L933.9,78.4 L934.9,73.7 L935.9,69.0 L936.9,64.8 L937.9,61.6 L938.9,60.0 L939.9,60.0 L940.9,60.4 L941.9,60.9 L942.9,61.4 L943.9,61.8 L944.9,62.0 L945.9,61.3 L946.9,59.6 L947.9,57.6 L948.9,55.8 L949.9,55.0 L950.9,55.1 L951.9,55.4 L952.9,55.9 L953.9,56.5 L955.0,57.2 L956.0,57.9 L957.0,59.2 L958.0,61.2 L959.0,63.6 L960.0,66.4 L961.0,69.2 L962.0,72.0 L963.0,74.6 L964.0,76.6 L965.0,78.1 L966.0,78.8 L967.0,79.2 L968.0,79.6 L969.0,79.9 L970.0,80.0 L971.0,79.6 L972.0,78.7 L973.0,77.5 L974.0,76.5 L975.0,75.8 L976.0,76.9 L977.0,81.7 L978.0,89.2 L979.0,97.8 L980.0,106.1 L981.0,112.6 L982.0,115.9 L983.0,115.7 L984.0,114.8 L985.0,113.5 L986.0,112.5 L987.0,112.0 L988.0,112.4 L989.0,113.5 L990.0,115.3 L991.0,117.7 L992.0,120.5 L993.0,123.7 L994.0,127.1 L995.0,130.6 L996.0,134.3 L997.0,137.8 L998.0,141.2 L999.0,144.4 L1000.0,147.2 L1001.0,149.6 L1002.0,151.4 L1003.0,152.6 L1004.0,153.0 L1005.0,152.8 L1006.0,152.4 L1007.0,151.6 L1008.0,150.7 L1009.0,149.6 L1010.0,148.4 L1011.0,147.1 L1012.0,145.8 L1013.0,144.5 L1014.0,143.3 L1015.0,142.2 L1016.0,141.3 L1017.0,140.6 L1018.0,140.1 L1019.0,140.0 L1020.0,140.6 L1021.0,142.0 L1022.0,144.1 L1023.0,146.8 L1024.0,149.9 L1025.0,153.4 L1026.0,157.0 L1027.0,160.6 L1028.0,164.2 L1029.0,167.5 L1030.0,170.5 L1031.0,173.0 L1032.0,174.8 L1033.0,175.9 L1034.0,176.1 L1035.0,175.7 L1036.0,174.8 L1037.0,173.5 L1038.0,171.8 L1039.0,169.8 L1040.0,167.5 L1041.0,165.0 L1042.0,162.3 L1043.0,159.5 L1044.0,156.6 L1045.0,153.7 L1046.0,150.8 L1047.0,147.9 L1048.0,145.1 L1049.0,142.5 L1050.0,140.1 L1051.0,138.0 L1052.0,136.1 L1053.0,134.6 L1054.0,133.5 L1055.0,132.8 L1056.0,132.6 L1057.0,132.9 L1058.0,133.6 L1059.0,134.6 L1060.0,136.0 L1061.0,137.7 L1062.0,139.7 L1063.0,141.8 L1064.0,144.2 L1065.0,146.8 L1066.0,149.5 L1067.0,152.3 L1068.0,155.1 L1069.0,158.0 L1070.0,160.9 L1071.0,163.7 L1072.1,166.5 L1073.1,169.2 L1074.1,171.7 L1075.1,174.0 L1076.1,176.2 L1077.1,178.0 L1078.1,179.6 L1079.1,180.9 L1080.1,181.9 L1081.1,182.4 L1082.1,182.6 L1083.1,181.9 L1084.1,180.3 L1085.1,178.0 L1086.1,175.1 L1087.1,171.9 L1088.1,168.4 L1089.1,165.0 L1090.1,161.8 L1091.1,158.3 L1092.1,154.3 L1093.1,150.0 L1094.1,145.6 L1095.1,141.3 L1096.1,137.3 L1097.1,133.7 L1098.1,130.8 L1099.1,128.3 L1100.1,125.9 L1101.1,123.7 L1102.1,121.4 L1103.1,118.9 L1104.1,116.3 L1105.1,114.2 L1106.1,112.7 L1107.1,111.3 L1108.1,110.0 L1109.1,108.9 L1110.1,108.1 L1111.1,107.6 L1112.1,107.7 L1113.1,108.1 L1114.1,108.9 L1115.1,109.8 L1116.1,110.9 L1117.1,112.1 L1118.1,113.2 L1119.1,114.5 L1120.1,115.9 L1121.1,117.5 L1122.1,119.2 L1123.1,120.9 L1124.1,122.7 L1125.1,124.5 L1126.1,126.6 L1127.1,128.6 L1128.1,130.8 L1129.1,132.9 L1130.1,135.1 L1131.1,137.2 L1132.1,139.3 L1133.1,141.3 L1134.1,143.3 L1135.1,145.4 L1136.1,147.6 L1137.1,149.8 L1138.1,152.3 L1139.1,155.0 L1140.1,158.1 L1141.1,161.4 L1142.1,164.8 L1143.1,168.2 L1144.1,171.5 L1145.1,174.5 L1146.1,177.2 L1147.1,179.4 L1148.1,181.4 L1149.1,183.3 L1150.1,185.0 L1151.1,186.7 L1152.1,188.2 L1153.1,189.6 L1154.1,190.9 L1155.1,192.0 L1156.1,192.9 L1157.1,193.8 L1158.1,194.6 L1159.1,195.4 L1160.1,196.2 L1161.1,196.9 L1162.1,197.7 L1163.1,198.4 L1164.1,199.0 L1165.1,199.6 L1166.1,200.2 L1167.1,200.7 L1168.1,201.1 L1169.1,201.5 L1170.1,201.8 L1171.1,202.1 L1172.1,202.2 L1173.1,202.3 L1174.1,202.3 L1175.1,202.2 L1176.1,201.9 L1177.1,201.6 L1178.1,201.2 L1179.1,200.7 L1180.1,200.1 L1181.1,199.5 L1182.1,198.8 L1183.1,198.0 L1184.1,197.2 L1185.1,196.4 L1186.1,195.5 L1187.1,194.5 L1188.1,193.5 L1189.1,192.6 L1190.2,191.5 L1191.2,190.5 L1192.2,189.5 L1193.2,188.5 L1194.2,187.4 L1195.2,186.4 L1196.2,185.4 L1197.2,184.3 L1198.2,183.1 L1199.2,181.8 L1200.2,180.5 L1201.2,179.1 L1202.2,177.6 L1203.2,176.2 L1204.2,174.7 L1205.2,173.3 L1206.2,171.9 L1207.2,170.5 L1208.2,169.0 L1209.2,167.5 L1210.2,165.9 L1211.2,164.4 L1212.2,162.9 L1213.2,161.4 L1214.2,160.0 L1215.2,158.8 L1216.2,157.6 L1217.2,156.7 L1218.2,155.9 L1219.2,155.1 L1220.2,154.3 L1221.2,153.5 L1222.2,152.7 L1223.2,152.0 L1224.2,151.2 L1225.2,150.5 L1226.2,149.8 L1227.2,149.2 L1228.2,148.6 L1229.2,148.0 L1230.2,147.5 L1231.2,147.0 L1232.2,146.5 L1233.2,146.2 L1234.2,145.8 L1235.2,145.6 L1236.2,145.4 L1237.2,145.3 L1238.2,145.2 L1239.2,145.2 L1240.2,145.3 L1241.2,145.5 L1242.2,145.7 L1243.2,146.0 L1244.2,146.4 L1245.2,146.8 L1246.2,147.3 L1247.2,147.8 L1248.2,148.4"/>
<path class="c" stroke="#f79646" d="M777.8,465.0 L778.8,465.0 L779.8,465.0 L780.8,465.0 L781.8,465.0 L782.8,465.0 L783.8,464.9 L784.8,464.9 L785.8,464.9 L786.8,464.9 L787.8,464.9 L788.8,464.8 L789.8,464.8 L790.8,464.8 L791.8,464.7 L792.8,464.7 L793.8,464.7 L794.8,464.6 L795.8,464.6 L796.8,464.5 L797.8,464.5 L798.8,464.4 L799.8,464.3 L800.8,464.2 L801.8,464.0 L802.8,463.8 L803.8,463.6 L804.8,463.3 L805.8,463.0 L806.8,462.7 L807.8,462.4 L808.8,462.2 L809.8,461.9 L810.8,461.6 L811.8,461.3 L812.8,461.0 L813.8,460.7 L814.8,460.4 L815.8,460.2 L816.8,459.9 L817.8,459.6 L818.8,459.2 L819.8,458.8 L820.8,458.4 L821.8,457.9 L822.8,457.3 L823.8,456.6 L824.8,455.5 L825.8,453.9 L826.8,452.0 L827.8,450.1 L828.8,448.2 L829.8,446.5 L830.8,444.7 L831.8,442.8 L832.8,440.8 L833.8,439.0 L834.8,437.5 L835.8,436.6 L836.9,436.3 L837.9,437.0 L838.9,438.4 L839.9,440.2 L840.9,442.0 L841.9,443.3 L842.9,443.9 L843.9,443.7 L844.9,443.0 L845.9,441.9 L846.9,440.4 L847.9,438.5 L848.9,436.4 L849.9,433.0 L850.9,426.5 L851.9,419.2 L852.9,411.9 L853.9,404.3 L854.9,397.0 L855.9,390.5 L856.9,383.9 L857.9,376.2 L858.9,367.3 L859.9,357.4 L860.9,346.8 L861.9,335.8 L862.9,324.6 L863.9,313.5 L864.9,302.8 L865.9,292.7 L866.9,283.5 L867.9,275.1 L868.9,267.0 L869.9,259.3 L870.9,251.8 L871.9,244.6 L872.9,237.4 L873.9,230.4 L874.9,223.3 L875.9,216.2 L876.9,209.0 L877.9,201.6 L878.9,193.7 L879.9,185.6 L880.9,178.9 L881.9,173.7 L882.9,169.2 L883.9,165.1 L884.9,161.3 L885.9,157.7 L886.9,154.0 L887.9,150.7 L888.9,147.6 L889.9,144.6 L890.9,141.3 L891.9,137.8 L892.9,133.8 L893.9,129.2 L894.9,124.5 L895.9,119.7 L896.9,115.1 L897.9,111.1 L898.9,107.6 L899.9,104.3 L900.9,101.4 L901.9,98.9 L902.9,96.4 L903.9,93.9 L904.9,91.6 L905.9,89.7 L906.9,88.4 L907.9,88.0 L908.9,88.1 L909.9,88.4 L910.9,88.8 L911.9,89.2 L912.9,89.8 L913.9,90.3 L914.9,90.9 L915.9,91.4 L916.9,91.9 L917.9,92.2 L918.9,92.4 L919.9,92.5 L920.9,92.4 L921.9,92.1 L922.9,91.7 L923.9,91.2 L924.9,90.6 L925.9,89.8 L926.9,89.1 L927.9,88.2 L928.9,87.3 L929.9,86.4 L930.9,85.0 L931.9,83.3 L932.9,81.4 L933.9,79.3 L934.9,77.3 L935.9,75.1 L936.9,72.5 L937.9,69.9 L938.9,67.4 L939.9,65.5 L940.9,64.4 L941.9,63.8 L942.9,63.3 L943.9,62.9 L944.9,62.3 L945.9,61.2 L946.9,58.8 L947.9,55.9 L948.9,53.1 L949.9,51.1 L950.9,50.4 L951.9,49.9 L952.9,49.4 L953.9,49.1 L955.0,48.9 L956.0,48.8 L957.0,49.0 L958.0,49.6 L959.0,50.5 L960.0,51.5 L961.0,52.7 L962.0,53.9 L963.0,55.2 L964.0,56.7 L965.0,58.6 L966.0,60.8 L967.0,63.2 L968.0,65.8 L969.0,68.5 L970.0,71.3 L971.0,74.0 L972.0,76.9 L973.0,80.1 L974.0,83.4 L975.0,86.9 L976.0,90.3 L977.0,93.5 L978.0,96.4 L979.0,99.0 L980.0,101.7 L981.0,104.3 L982.0,106.6 L983.0,108.4 L984.0,109.6 L985.0,110.4 L986.0,111.1 L987.0,111.6 L988.0,112.1 L989.0,112.7 L990.0,113.4 L991.0,114.5 L992.0,116.4 L993.0,119.5 L994.0,123.1 L995.0,126.7 L996.0,130.0 L997.0,134.0 L998.0,137.3 L999.0,138.5 L1000.0,138.1 L1001.0,137.2 L1002.0,136.1 L1003.0,135.1 L1004.0,134.6 L1005.0,135.4 L1006.0,138.1 L1007.0,141.7 L1008.0,145.1 L1009.0,147.2 L1010.0,147.3 L1011.0,146.8 L1012.0,146.0 L1013.0,145.3 L1014.0,144.7 L1015.0,144.7 L1016.0,146.1 L1017.0,148.7 L1018.0,151.9 L1019.0,155.2 L1020.0,157.9 L1021.0,159.5 L1022.0,159.3 L1023.0,157.5 L1024.0,154.7 L1025.0,151.6 L1026.0,148.6 L1027.0,146.4 L1028.0,145.5 L1029.0,146.3 L1030.0,148.2 L1031.0,151.0 L1032.0,154.1 L1033.0,157.1 L1034.0,159.5 L1035.0,161.0 L1036.0,161.2 L1037.0,160.2 L1038.0,158.3 L1039.0,155.8 L1040.0,153.0 L1041.0,150.2 L1042.0,147.5 L1043.0,145.4 L1044.0,144.1 L1045.0,143.7 L1046.0,144.7 L1047.0,146.7 L1048.0,149.3 L1049.0,152.3 L1050.0,155.2 L1051.0,157.8 L1052.0,159.6 L1053.0,160.4 L1054.0,159.9 L1055.0,158.6 L1056.0,156.5 L1057.0,153.8 L1058.0,150.8 L1059.0,147.7 L1060.0,144.7 L1061.0,142.0 L1062.0,139.6 L1063.0,138.0 L1064.0,137.2 L1065.0,137.5 L1066.0,138.7 L1067.0,140.6 L1068.0,143.1 L1069.0,145.9 L1070.0,148.9 L1071.0,151.8 L1072.1,154.6 L1073.1,156.8 L1074.1,158.5 L1075.1,159.3 L1076.1,159.2 L1077.1,158.1 L1078.1,156.2 L1079.1,153.6 L1080.1,150.6 L1081.1,147.3 L1082.1,143.9 L1083.1,140.5 L1084.1,137.3 L1085.1,134.5 L1086.1,132.2 L1087.1,130.6 L1088.1,129.8 L1089.1,130.0 L1090.1,130.8 L1091.1,132.2 L1092.1,134.0 L1093.1,136.3 L1094.1,138.8 L1095.1,141.4 L1096.1,144.2 L1097.1,147.0 L1098.1,149.8 L1099.1,152.3 L1100.1,154.6 L1101.1,156.6 L1102.1,158.1 L1103.1,159.0 L1104.1,159.4 L1105.1,159.2 L1106.1,158.5 L1107.1,157.4 L1108.1,156.0 L1109.1,154.3 L1110.1,152.3 L1111.1,150.3 L1112.1,148.1 L1113.1,145.9 L1114.1,143.7 L1115.1,141.5 L1116.1,139.6 L1117.1,137.8 L1118.1,136.3 L1119.1,135.0 L1120.1,134.2 L1121.1,133.8 L1122.1,133.9 L1123.1,134.4 L1124.1,135.3 L1125.1,136.6 L1126.1,138.2 L1127.1,140.0 L1128.1,142.1 L1129.1,144.3 L1130.1,146.7 L1131.1,149.1 L1132.1,151.6 L1133.1,154.1 L1134.1,156.6 L1135.1,159.0 L1136.1,161.3 L1137.1,163.4 L1138.1,165.3 L1139.1,167.0 L1140.1,168.3 L1141.1,169.3 L1142.1,170.0 L1143.1,170.2 L1144.1,170.0 L1145.1,169.5 L1146.1,168.8 L1147.1,167.7 L1148.1,166.5 L1149.1,165.1 L1150.1,163.5 L1151.1,161.8 L1152.1,160.0 L1153.1,158.2 L1154.1,156.3 L1155.1,154.5 L1156.1,152.7 L1157.1,151.0 L1158.1,149.4 L1159.1,148.0 L1160.1,146.7 L1161.1,145.7 L1162.1,144.9 L1163.1,144.4 L1164.1,144.2 L1165.1,144.3 L1166.1,144.7 L1167.1,145.3 L1168.1,146.1 L1169.1,147.2 L1170.1,148.4 L1171.1,149.8 L1172.1,151.4 L1173.1,153.2 L1174.1,155.1 L1175.1,157.1 L1176.1,159.2 L1177.1,161.4 L1178.1,163.7 L1179.1,166.0 L1180.1,168.4 L1181.1,170.8 L1182.1,173.2 L1183.1,175.7 L1184.1,178.1 L1185.1,180.5 L1186.1,182.9 L1187.1,185.2 L1188.1,187.4 L1189.1,189.6 L1190.2,191.6 L1191.2,193.6 L1192.2,195.4 L1193.2,197.0 L1194.2,198.5 L1195.2,199.8 L1196.2,201.0 L1197.2,201.9 L1198.2,202.6 L1199.2,203.1 L1200.2,203.3 L1201.2,203.3 L1202.2,203.1 L1203.2,202.9 L1204.2,202.5 L1205.2,202.1 L1206.2,201.6 L1207.2,201.0 L1208.2,200.3 L1209.2,199.6 L1210.2,198.9 L1211.2,198.1 L1212.2,197.2 L1213.2,196.4 L1214.2,195.5 L1215.2,194.7 L1216.2,193.8 L1217.2,193.0 L1218.2,192.2 L1219.2,191.4 L1220.2,190.7 L1221.2,190.0 L1222.2,189.4 L1223.2,188.8 L1224.2,188.3 L1225.2,188.0 L1226.2,187.7 L1227.2,187.5 L1228.2,187.4 L1229.2,187.4 L1230.2,187.5 L1231.2,187.7 L1232.2,188.0 L1233.2,188.3 L1234.2,188.7 L1235.2,189.2 L1236.2,189.8 L1237.2,190.4 L1238.2,191.1 L1239.2,191.8 L1240.2,192.6 L1241.2,193.4 L1242.2,194.3 L1243.2,195.3 L1244.2,196.3 L1245.2,197.4 L1246.2,198.5 L1247.2,199.6 L1248.2,200.8"/>
<line class="c" style="stroke-width:6.5" stroke="#7d60a0" x1="1038.4" y1="361.9" x2="1118.2" y2="361.9"/>
<text class="lg" transform="translate(1126.5,372.4) scale(1,1.035)">B1F2S1</text>
<line class="c" style="stroke-width:6.5" stroke="#46aac5" x1="1038.4" y1="398.3" x2="1118.2" y2="398.3"/>
<text class="lg" transform="translate(1126.5,408.9) scale(1,1.035)">B1F2S2</text>
<line class="c" style="stroke-width:6.5" stroke="#f79646" x1="1038.4" y1="435" x2="1118.2" y2="435"/>
<text class="lg" transform="translate(1126.5,445.5) scale(1,1.035)">B1F2S3</text>
<text class="tk" transform="translate(749.7,476.3) scale(1,1.04)" text-anchor="end">0</text>
<text class="tk" transform="translate(748.3,386.6) scale(1,1.04)" text-anchor="end">10</text>
<text class="tk" transform="translate(748.3,296.8) scale(1,1.04)" text-anchor="end">20</text>
<text class="tk" transform="translate(748.3,207.1) scale(1,1.04)" text-anchor="end">30</text>
<text class="tk" transform="translate(748.3,117.3) scale(1,1.04)" text-anchor="end">40</text>
<text class="tk" transform="translate(748.3,27.6) scale(1,1.04)" text-anchor="end">50</text>
<text class="tk" transform="translate(770.8,514.2) scale(1,1.04)" text-anchor="middle">0</text>
<text class="tk" transform="translate(887.8,514.2) scale(1,1.04)" text-anchor="middle">5</text>
<text class="tk" transform="translate(1006.5,514.2) scale(1,1.04)" text-anchor="middle">10</text>
<text class="tk" transform="translate(1121.6,514.2) scale(1,1.04)" text-anchor="middle">15</text>
<text class="tk" transform="translate(1236.5,514.2) scale(1,1.04)" text-anchor="middle">20</text>
<text class="ti" transform="translate(1011.3,558.8) scale(1,1.03)" text-anchor="middle">Speed [knots]</text>
<text class="yt" transform="translate(691.8,244.20) rotate(-90) scale(0.98,1.05)" text-anchor="middle">Wave Resistance Coeff. [×10<tspan dy="-13" style="font-size:21.5px">3</tspan><tspan dy="13">]</tspan></text>
<text class="cap" transform="translate(1012.0,635.9) scale(1,1.05)" text-anchor="middle"><tspan dy="1.7" style="font-size:43px">[</tspan><tspan dy="-1.7">b</tspan><tspan dy="1.7" style="font-size:43px">]</tspan></text>
</g>
<g id="chart-c">
<line class="grid" x1="1586.7" y1="20.2" x2="1586.7" y2="467.7"/>
<line class="grid" x1="1711.6" y1="20.2" x2="1711.6" y2="467.7"/>
<line class="grid" x1="1836.4" y1="20.2" x2="1836.4" y2="467.7"/>
<line class="grid" x1="1461.9" y1="318.5" x2="1961.2" y2="318.5"/>
<line class="grid" x1="1461.9" y1="169.4" x2="1961.2" y2="169.4"/>
<rect class="box" x="1461.9" y="20.2" width="499.3" height="447.5"/>
<path class="c" stroke="#2a4f7e" d="M1468.6,467.5 L1469.6,467.4 L1470.6,467.4 L1471.6,467.4 L1472.6,467.3 L1473.6,467.3 L1474.6,467.2 L1475.6,467.1 L1476.6,467.1 L1477.6,467.0 L1478.6,466.9 L1479.6,466.8 L1480.6,466.7 L1481.6,466.6 L1482.6,466.6 L1483.6,466.5 L1484.6,466.4 L1485.6,466.3 L1486.6,466.2 L1487.6,466.1 L1488.6,466.0 L1489.6,465.8 L1490.6,465.7 L1491.6,465.6 L1492.6,465.4 L1493.6,465.3 L1494.6,465.1 L1495.6,464.9 L1496.7,464.7 L1497.7,464.6 L1498.7,464.4 L1499.7,464.2 L1500.7,464.0 L1501.7,463.8 L1502.7,463.6 L1503.7,463.3 L1504.7,463.1 L1505.7,462.9 L1506.7,462.7 L1507.7,462.6 L1508.7,462.3 L1509.7,462.1 L1510.7,461.9 L1511.7,461.6 L1512.7,461.3 L1513.7,461.0 L1514.7,460.6 L1515.7,460.2 L1516.7,459.7 L1517.7,458.9 L1518.7,457.8 L1519.7,456.4 L1520.7,454.9 L1521.7,453.3 L1522.7,451.8 L1523.7,450.4 L1524.7,448.7 L1525.7,446.9 L1526.7,445.0 L1527.7,443.4 L1528.7,442.0 L1529.7,441.2 L1530.7,441.2 L1531.7,442.1 L1532.7,443.6 L1533.7,445.3 L1534.7,446.7 L1535.7,447.4 L1536.7,447.2 L1537.7,446.6 L1538.7,445.6 L1539.7,444.3 L1540.7,442.6 L1541.7,440.6 L1542.7,438.4 L1543.7,434.8 L1544.7,429.0 L1545.7,422.4 L1546.7,416.2 L1547.7,409.9 L1548.7,403.4 L1549.7,397.0 L1550.8,391.0 L1551.8,385.0 L1552.8,378.1 L1553.8,369.9 L1554.8,360.8 L1555.8,351.0 L1556.8,341.0 L1557.8,331.2 L1558.8,321.8 L1559.8,313.2 L1560.8,304.8 L1561.8,296.5 L1562.8,288.5 L1563.8,280.7 L1564.8,273.2 L1565.8,266.0 L1566.8,259.3 L1567.8,252.9 L1568.8,246.6 L1569.8,240.1 L1570.8,233.4 L1571.8,226.1 L1572.8,218.6 L1573.8,211.2 L1574.8,204.3 L1575.8,197.4 L1576.8,191.4 L1577.8,187.1 L1578.8,183.8 L1579.8,181.0 L1580.8,178.4 L1581.8,175.6 L1582.8,172.5 L1583.8,169.3 L1584.8,166.0 L1585.8,162.6 L1586.8,159.2 L1587.8,155.6 L1588.8,151.6 L1589.8,147.3 L1590.8,142.9 L1591.8,138.6 L1592.8,134.6 L1593.8,131.3 L1594.8,128.5 L1595.8,125.7 L1596.8,123.1 L1597.8,121.2 L1598.8,120.1 L1599.8,119.7 L1600.8,119.4 L1601.8,119.3 L1602.8,119.1 L1603.8,119.0 L1604.8,118.7 L1605.9,118.5 L1606.9,118.1 L1607.9,117.8 L1608.9,117.3 L1609.9,116.9 L1610.9,116.4 L1611.9,115.9 L1612.9,115.3 L1613.9,114.7 L1614.9,114.1 L1615.9,113.4 L1616.9,112.5 L1617.9,111.5 L1618.9,110.4 L1619.9,109.3 L1620.9,108.2 L1621.9,107.2 L1622.9,106.2 L1623.9,105.5 L1624.9,104.9 L1625.9,104.3 L1626.9,103.8 L1627.9,103.3 L1628.9,102.6 L1629.9,101.5 L1630.9,99.8 L1631.9,97.8 L1632.9,95.7 L1633.9,94.0 L1634.9,92.9 L1635.9,92.6 L1636.9,92.7 L1637.9,92.9 L1638.9,93.2 L1639.9,93.4 L1640.9,93.6 L1641.9,93.7 L1642.9,93.5 L1643.9,93.0 L1644.9,92.2 L1645.9,91.4 L1646.9,90.6 L1647.9,90.1 L1648.9,90.0 L1649.9,90.2 L1650.9,90.5 L1651.9,91.0 L1652.9,91.6 L1653.9,92.3 L1654.9,93.1 L1655.9,93.9 L1656.9,94.8 L1657.9,95.7 L1658.9,96.8 L1660.0,98.1 L1661.0,99.5 L1662.0,101.1 L1663.0,102.8 L1664.0,104.6 L1665.0,106.4 L1666.0,108.3 L1667.0,110.6 L1668.0,113.2 L1669.0,116.0 L1670.0,118.8 L1671.0,121.3 L1672.0,123.4 L1673.0,125.0 L1674.0,126.4 L1675.0,127.6 L1676.0,128.8 L1677.0,129.8 L1678.0,130.8 L1679.0,131.8 L1680.0,132.8 L1681.0,133.8 L1682.0,135.0 L1683.0,136.3 L1684.0,137.8 L1685.0,139.5 L1686.0,141.2 L1687.0,142.9 L1688.0,144.7 L1689.0,146.3 L1690.0,147.9 L1691.0,149.3 L1692.0,150.4 L1693.0,151.3 L1694.0,151.9 L1695.0,152.1 L1696.0,151.9 L1697.0,151.3 L1698.0,150.5 L1699.0,149.6 L1700.0,148.8 L1701.0,148.2 L1702.0,148.0 L1703.0,148.1 L1704.0,148.2 L1705.0,148.5 L1706.0,148.8 L1707.0,149.2 L1708.0,149.6 L1709.0,150.0 L1710.0,150.6 L1711.0,151.5 L1712.0,152.5 L1713.0,153.8 L1714.0,155.3 L1715.1,156.8 L1716.1,158.5 L1717.1,160.1 L1718.1,161.8 L1719.1,163.4 L1720.1,165.0 L1721.1,166.4 L1722.1,167.7 L1723.1,168.7 L1724.1,169.6 L1725.1,170.1 L1726.1,170.4 L1727.1,170.3 L1728.1,170.0 L1729.1,169.4 L1730.1,168.6 L1731.1,167.6 L1732.1,166.6 L1733.1,165.4 L1734.1,164.3 L1735.1,163.1 L1736.1,162.0 L1737.1,161.0 L1738.1,160.1 L1739.1,159.4 L1740.1,158.9 L1741.1,158.7 L1742.1,158.7 L1743.1,158.9 L1744.1,159.1 L1745.1,159.5 L1746.1,159.9 L1747.1,160.4 L1748.1,161.0 L1749.1,161.7 L1750.1,162.5 L1751.1,163.3 L1752.1,164.1 L1753.1,165.0 L1754.1,166.0 L1755.1,167.0 L1756.1,168.0 L1757.1,169.0 L1758.1,170.1 L1759.1,171.1 L1760.1,172.2 L1761.1,173.2 L1762.1,174.3 L1763.1,175.3 L1764.1,176.3 L1765.1,177.2 L1766.1,178.1 L1767.1,179.0 L1768.1,179.8 L1769.1,180.6 L1770.2,181.3 L1771.2,181.9 L1772.2,182.4 L1773.2,182.9 L1774.2,183.2 L1775.2,183.5 L1776.2,183.7 L1777.2,183.7 L1778.2,183.5 L1779.2,183.2 L1780.2,182.6 L1781.2,181.9 L1782.2,181.1 L1783.2,180.1 L1784.2,179.0 L1785.2,177.8 L1786.2,176.6 L1787.2,175.3 L1788.2,174.1 L1789.2,172.8 L1790.2,171.6 L1791.2,170.4 L1792.2,169.3 L1793.2,168.3 L1794.2,167.4 L1795.2,166.6 L1796.2,166.0 L1797.2,165.6 L1798.2,165.4 L1799.2,165.4 L1800.2,165.5 L1801.2,165.7 L1802.2,166.0 L1803.2,166.3 L1804.2,166.7 L1805.2,167.1 L1806.2,167.6 L1807.2,168.1 L1808.2,168.6 L1809.2,169.1 L1810.2,169.7 L1811.2,170.2 L1812.2,170.7 L1813.2,171.2 L1814.2,171.7 L1815.2,172.2 L1816.2,172.8 L1817.2,173.3 L1818.2,173.9 L1819.2,174.5 L1820.2,175.2 L1821.2,175.8 L1822.2,176.5 L1823.2,177.3 L1824.3,178.0 L1825.3,178.8 L1826.3,179.6 L1827.3,180.5 L1828.3,181.3 L1829.3,182.3 L1830.3,183.4 L1831.3,184.6 L1832.3,185.8 L1833.3,187.2 L1834.3,188.5 L1835.3,189.9 L1836.3,191.3 L1837.3,192.8 L1838.3,194.2 L1839.3,195.5 L1840.3,196.9 L1841.3,198.4 L1842.3,199.9 L1843.3,201.3 L1844.3,202.8 L1845.3,204.2 L1846.3,205.6 L1847.3,206.8 L1848.3,208.1 L1849.3,209.4 L1850.3,210.7 L1851.3,212.0 L1852.3,213.2 L1853.3,214.3 L1854.3,215.4 L1855.3,216.4 L1856.3,217.2 L1857.3,217.9 L1858.3,218.5 L1859.3,219.1 L1860.3,219.6 L1861.3,220.1 L1862.3,220.6 L1863.3,221.0 L1864.3,221.4 L1865.3,221.7 L1866.3,221.8 L1867.3,221.9 L1868.3,221.9 L1869.3,221.7 L1870.3,221.5 L1871.3,221.2 L1872.3,220.9 L1873.3,220.5 L1874.3,220.1 L1875.3,219.6 L1876.3,219.1 L1877.3,218.6 L1878.3,218.0 L1879.4,217.5 L1880.4,216.9 L1881.4,216.4 L1882.4,215.9 L1883.4,215.4 L1884.4,215.0 L1885.4,214.6 L1886.4,214.1 L1887.4,213.7 L1888.4,213.2 L1889.4,212.7 L1890.4,212.1 L1891.4,211.6 L1892.4,211.1 L1893.4,210.5 L1894.4,210.0 L1895.4,209.5 L1896.4,209.0 L1897.4,208.5 L1898.4,208.0 L1899.4,207.6 L1900.4,207.2 L1901.4,206.8 L1902.4,206.5 L1903.4,206.2 L1904.4,206.0 L1905.4,205.8 L1906.4,205.7 L1907.4,205.7 L1908.4,205.7 L1909.4,205.8 L1910.4,205.9 L1911.4,206.1 L1912.4,206.3 L1913.4,206.6 L1914.4,206.9 L1915.4,207.2 L1916.4,207.6 L1917.4,207.9 L1918.4,208.3 L1919.4,208.8 L1920.4,209.2 L1921.4,209.7 L1922.4,210.1 L1923.4,210.6 L1924.4,211.1 L1925.4,211.5 L1926.4,212.0 L1927.4,212.5 L1928.4,213.0 L1929.4,213.5 L1930.4,214.0 L1931.4,214.6 L1932.4,215.2 L1933.5,215.8 L1934.5,216.5 L1935.5,217.2 L1936.5,217.9 L1937.5,218.6 L1938.5,219.3 L1939.5,220.1 L1940.5,220.8 L1941.5,221.6 L1942.5,222.3 L1943.5,223.0 L1944.5,223.8 L1945.5,224.5 L1946.5,225.2 L1947.5,226.0 L1948.5,226.7 L1949.5,227.5 L1950.5,228.2 L1951.5,229.0 L1952.5,229.8 L1953.5,230.6 L1954.5,231.4 L1955.5,232.2 L1956.5,233.0 L1957.5,233.8 L1958.5,234.6 L1959.5,235.5 L1960.5,236.3"/>
<path class="c" stroke="#7f2b29" d="M1469.1,467.5 L1470.1,467.4 L1471.1,467.4 L1472.1,467.4 L1473.1,467.3 L1474.1,467.3 L1475.1,467.2 L1476.1,467.1 L1477.1,467.1 L1478.1,467.0 L1479.1,466.9 L1480.1,466.8 L1481.1,466.7 L1482.1,466.6 L1483.1,466.6 L1484.1,466.5 L1485.1,466.4 L1486.1,466.3 L1487.1,466.2 L1488.1,466.1 L1489.1,466.0 L1490.1,465.8 L1491.1,465.7 L1492.1,465.6 L1493.1,465.4 L1494.1,465.3 L1495.1,465.1 L1496.1,464.9 L1497.1,464.7 L1498.1,464.6 L1499.1,464.4 L1500.1,464.2 L1501.1,464.0 L1502.1,463.8 L1503.1,463.6 L1504.1,463.4 L1505.1,463.1 L1506.1,463.0 L1507.1,462.8 L1508.1,462.6 L1509.1,462.4 L1510.1,462.1 L1511.1,461.9 L1512.1,461.6 L1513.1,461.4 L1514.1,461.0 L1515.1,460.7 L1516.1,460.2 L1517.1,459.8 L1518.1,459.0 L1519.1,457.9 L1520.1,456.5 L1521.1,455.0 L1522.1,453.4 L1523.1,451.9 L1524.1,450.5 L1525.1,448.8 L1526.1,447.0 L1527.1,445.1 L1528.1,443.4 L1529.1,442.1 L1530.1,441.3 L1531.2,441.2 L1532.2,442.0 L1533.2,443.5 L1534.2,445.2 L1535.2,446.6 L1536.2,447.4 L1537.2,447.3 L1538.2,446.7 L1539.2,445.7 L1540.2,444.4 L1541.2,442.7 L1542.2,440.8 L1543.2,438.6 L1544.2,435.2 L1545.2,429.5 L1546.2,422.9 L1547.2,416.7 L1548.2,410.4 L1549.2,404.0 L1550.2,397.5 L1551.2,391.5 L1552.2,385.5 L1553.2,378.8 L1554.2,370.7 L1555.2,361.6 L1556.2,351.9 L1557.2,341.9 L1558.2,332.0 L1559.2,322.6 L1560.2,314.0 L1561.2,305.5 L1562.2,297.3 L1563.2,289.3 L1564.2,281.5 L1565.2,273.9 L1566.2,266.7 L1567.2,259.7 L1568.2,253.0 L1569.2,246.5 L1570.2,240.2 L1571.2,234.0 L1572.2,228.1 L1573.2,222.4 L1574.2,216.8 L1575.2,211.2 L1576.2,205.2 L1577.2,198.4 L1578.2,192.0 L1579.2,187.5 L1580.2,184.2 L1581.2,181.5 L1582.2,178.9 L1583.2,176.0 L1584.2,172.5 L1585.2,168.6 L1586.2,164.4 L1587.2,160.1 L1588.2,156.0 L1589.2,151.6 L1590.2,146.9 L1591.2,142.2 L1592.2,137.8 L1593.2,134.0 L1594.2,131.2 L1595.2,129.6 L1596.2,128.1 L1597.2,126.8 L1598.2,125.8 L1599.2,125.2 L1600.2,125.0 L1601.2,125.2 L1602.2,125.6 L1603.2,126.1 L1604.2,126.6 L1605.2,127.0 L1606.2,127.2 L1607.2,127.2 L1608.2,127.1 L1609.2,126.9 L1610.2,126.7 L1611.2,126.4 L1612.2,126.1 L1613.2,125.7 L1614.2,125.3 L1615.2,124.9 L1616.2,124.3 L1617.2,123.8 L1618.2,123.2 L1619.2,122.6 L1620.2,122.0 L1621.2,121.2 L1622.2,120.1 L1623.2,118.8 L1624.2,117.2 L1625.2,115.4 L1626.2,113.4 L1627.2,111.5 L1628.2,109.5 L1629.2,107.5 L1630.2,105.1 L1631.2,102.1 L1632.2,99.1 L1633.2,96.4 L1634.2,94.2 L1635.2,93.1 L1636.2,93.1 L1637.2,93.8 L1638.2,94.8 L1639.2,96.0 L1640.2,97.1 L1641.2,97.9 L1642.2,98.1 L1643.2,97.5 L1644.2,96.3 L1645.2,94.7 L1646.2,93.1 L1647.2,91.8 L1648.2,91.1 L1649.2,91.3 L1650.2,92.7 L1651.2,94.9 L1652.2,97.4 L1653.2,99.8 L1654.3,101.6 L1655.3,102.5 L1656.3,103.0 L1657.3,103.4 L1658.3,103.7 L1659.3,104.0 L1660.3,104.2 L1661.3,104.4 L1662.3,104.7 L1663.3,104.9 L1664.3,105.3 L1665.3,105.7 L1666.3,106.3 L1667.3,107.3 L1668.3,108.6 L1669.3,110.2 L1670.3,112.0 L1671.3,113.9 L1672.3,115.9 L1673.3,117.8 L1674.3,119.6 L1675.3,121.4 L1676.3,123.3 L1677.3,125.5 L1678.3,127.8 L1679.3,130.1 L1680.3,132.4 L1681.3,134.6 L1682.3,136.6 L1683.3,138.5 L1684.3,140.0 L1685.3,141.3 L1686.3,142.1 L1687.3,142.4 L1688.3,142.3 L1689.3,141.9 L1690.3,141.4 L1691.3,140.9 L1692.3,140.4 L1693.3,140.1 L1694.3,140.0 L1695.3,140.4 L1696.3,141.3 L1697.3,142.5 L1698.3,144.1 L1699.3,145.9 L1700.3,147.9 L1701.3,150.1 L1702.3,152.3 L1703.3,154.6 L1704.3,156.9 L1705.3,159.0 L1706.3,160.9 L1707.3,162.7 L1708.3,164.1 L1709.3,165.2 L1710.3,165.9 L1711.3,166.1 L1712.3,165.8 L1713.3,165.0 L1714.3,163.9 L1715.3,162.6 L1716.3,161.0 L1717.3,159.4 L1718.3,157.8 L1719.3,156.3 L1720.3,155.0 L1721.3,154.0 L1722.3,153.4 L1723.3,153.2 L1724.3,153.7 L1725.3,154.8 L1726.3,156.5 L1727.3,158.5 L1728.3,160.9 L1729.3,163.5 L1730.3,166.1 L1731.3,168.8 L1732.3,171.4 L1733.3,173.7 L1734.3,175.8 L1735.3,177.4 L1736.3,178.5 L1737.3,179.0 L1738.3,178.9 L1739.3,178.6 L1740.3,178.1 L1741.3,177.4 L1742.3,176.5 L1743.3,175.5 L1744.3,174.3 L1745.3,173.0 L1746.3,171.6 L1747.3,170.1 L1748.3,168.6 L1749.3,167.0 L1750.3,165.4 L1751.3,163.7 L1752.3,162.1 L1753.3,160.5 L1754.3,159.0 L1755.3,157.5 L1756.3,156.1 L1757.3,154.8 L1758.3,153.7 L1759.3,152.6 L1760.3,151.8 L1761.3,151.1 L1762.3,150.6 L1763.3,150.3 L1764.3,150.2 L1765.3,150.5 L1766.3,151.2 L1767.3,152.2 L1768.3,153.6 L1769.3,155.2 L1770.3,157.0 L1771.3,159.1 L1772.3,161.4 L1773.3,163.7 L1774.3,166.2 L1775.3,168.8 L1776.4,171.4 L1777.4,174.0 L1778.4,176.6 L1779.4,179.1 L1780.4,181.5 L1781.4,183.8 L1782.4,186.0 L1783.4,187.9 L1784.4,189.6 L1785.4,191.0 L1786.4,192.1 L1787.4,192.9 L1788.4,193.3 L1789.4,193.4 L1790.4,193.1 L1791.4,192.4 L1792.4,191.5 L1793.4,190.4 L1794.4,189.0 L1795.4,187.3 L1796.4,185.5 L1797.4,183.5 L1798.4,181.4 L1799.4,179.1 L1800.4,176.8 L1801.4,174.3 L1802.4,171.8 L1803.4,169.2 L1804.4,166.7 L1805.4,164.1 L1806.4,161.6 L1807.4,159.1 L1808.4,156.7 L1809.4,154.4 L1810.4,152.2 L1811.4,150.2 L1812.4,148.3 L1813.4,146.6 L1814.4,145.1 L1815.4,143.9 L1816.4,142.9 L1817.4,142.1 L1818.4,141.7 L1819.4,141.6 L1820.4,141.8 L1821.4,142.2 L1822.4,142.9 L1823.4,143.7 L1824.4,144.7 L1825.4,145.7 L1826.4,146.8 L1827.4,147.9 L1828.4,148.9 L1829.4,150.1 L1830.4,151.5 L1831.4,153.0 L1832.4,154.6 L1833.4,156.2 L1834.4,158.0 L1835.4,159.7 L1836.4,161.5 L1837.4,163.4 L1838.4,165.4 L1839.4,167.5 L1840.4,169.7 L1841.4,172.0 L1842.4,174.2 L1843.4,176.5 L1844.4,178.8 L1845.4,181.0 L1846.4,183.2 L1847.4,185.3 L1848.4,187.4 L1849.4,189.5 L1850.4,191.6 L1851.4,193.7 L1852.4,195.8 L1853.4,197.8 L1854.4,199.7 L1855.4,201.6 L1856.4,203.6 L1857.4,205.5 L1858.4,207.4 L1859.4,209.2 L1860.4,210.9 L1861.4,212.6 L1862.4,214.1 L1863.4,215.5 L1864.4,216.8 L1865.4,218.2 L1866.4,219.5 L1867.4,220.7 L1868.4,221.9 L1869.4,223.0 L1870.4,224.1 L1871.4,225.0 L1872.4,225.8 L1873.4,226.6 L1874.4,227.2 L1875.4,227.8 L1876.4,228.4 L1877.4,228.9 L1878.4,229.5 L1879.4,230.0 L1880.4,230.5 L1881.4,231.0 L1882.4,231.4 L1883.4,231.8 L1884.4,232.2 L1885.4,232.4 L1886.4,232.7 L1887.4,232.8 L1888.4,232.9 L1889.4,232.9 L1890.4,232.8 L1891.4,232.6 L1892.4,232.3 L1893.4,232.0 L1894.4,231.6 L1895.4,231.1 L1896.4,230.5 L1897.4,229.9 L1898.4,229.3 L1899.5,228.6 L1900.5,227.9 L1901.5,227.2 L1902.5,226.4 L1903.5,225.7 L1904.5,224.9 L1905.5,224.1 L1906.5,223.4 L1907.5,222.6 L1908.5,221.7 L1909.5,220.7 L1910.5,219.6 L1911.5,218.5 L1912.5,217.4 L1913.5,216.2 L1914.5,215.0 L1915.5,213.8 L1916.5,212.6 L1917.5,211.4 L1918.5,210.2 L1919.5,209.0 L1920.5,207.8 L1921.5,206.5 L1922.5,205.2 L1923.5,203.9 L1924.5,202.7 L1925.5,201.4 L1926.5,200.2 L1927.5,199.1 L1928.5,198.0 L1929.5,196.8 L1930.5,195.6 L1931.5,194.5 L1932.5,193.4 L1933.5,192.3 L1934.5,191.4 L1935.5,190.6 L1936.5,190.0 L1937.5,189.5 L1938.5,189.0 L1939.5,188.6 L1940.5,188.1 L1941.5,187.7 L1942.5,187.3 L1943.5,186.9 L1944.5,186.5 L1945.5,186.2 L1946.5,185.9 L1947.5,185.6 L1948.5,185.4 L1949.5,185.2 L1950.5,185.1 L1951.5,185.0 L1952.5,184.9 L1953.5,184.9 L1954.5,185.0 L1955.5,185.1 L1956.5,185.3 L1957.5,185.5 L1958.5,185.8 L1959.5,186.1 L1960.5,186.5"/>
<path class="c" stroke="#61782f" d="M1469.1,467.5 L1470.1,467.4 L1471.1,467.4 L1472.1,467.4 L1473.1,467.3 L1474.1,467.3 L1475.1,467.2 L1476.1,467.1 L1477.1,467.1 L1478.1,467.0 L1479.1,466.9 L1480.1,466.8 L1481.1,466.7 L1482.1,466.6 L1483.1,466.6 L1484.1,466.5 L1485.1,466.4 L1486.1,466.3 L1487.1,466.2 L1488.1,466.1 L1489.1,466.0 L1490.1,465.8 L1491.1,465.7 L1492.1,465.6 L1493.1,465.4 L1494.1,465.3 L1495.1,465.1 L1496.1,464.9 L1497.1,464.7 L1498.1,464.6 L1499.1,464.4 L1500.1,464.2 L1501.1,464.0 L1502.1,463.8 L1503.1,463.6 L1504.1,463.4 L1505.1,463.1 L1506.1,463.0 L1507.1,462.8 L1508.1,462.6 L1509.1,462.4 L1510.1,462.1 L1511.1,461.9 L1512.1,461.6 L1513.1,461.4 L1514.1,461.0 L1515.1,460.7 L1516.1,460.2 L1517.1,459.8 L1518.1,459.0 L1519.1,457.9 L1520.1,456.5 L1521.1,455.0 L1522.1,453.4 L1523.1,451.9 L1524.1,450.5 L1525.1,448.8 L1526.1,447.0 L1527.1,445.1 L1528.1,443.4 L1529.1,442.1 L1530.1,441.3 L1531.2,441.2 L1532.2,442.0 L1533.2,443.5 L1534.2,445.2 L1535.2,446.6 L1536.2,447.4 L1537.2,447.3 L1538.2,446.7 L1539.2,445.7 L1540.2,444.4 L1541.2,442.7 L1542.2,440.8 L1543.2,438.6 L1544.2,435.2 L1545.2,429.5 L1546.2,422.9 L1547.2,416.7 L1548.2,410.4 L1549.2,404.0 L1550.2,397.5 L1551.2,391.5 L1552.2,385.5 L1553.2,378.8 L1554.2,370.7 L1555.2,361.6 L1556.2,351.9 L1557.2,341.9 L1558.2,332.0 L1559.2,322.6 L1560.2,314.0 L1561.2,305.5 L1562.2,297.3 L1563.2,289.3 L1564.2,281.5 L1565.2,273.9 L1566.2,266.7 L1567.2,260.0 L1568.2,253.5 L1569.2,247.2 L1570.2,240.8 L1571.2,234.1 L1572.2,226.9 L1573.2,219.4 L1574.2,212.0 L1575.2,205.1 L1576.2,198.2 L1577.2,192.0 L1578.2,187.5 L1579.2,184.1 L1580.2,181.3 L1581.2,178.7 L1582.2,175.9 L1583.2,172.8 L1584.2,169.6 L1585.2,166.4 L1586.2,163.0 L1587.2,159.6 L1588.2,156.0 L1589.2,152.0 L1590.2,147.6 L1591.2,143.0 L1592.2,138.6 L1593.2,134.7 L1594.2,131.5 L1595.2,129.1 L1596.2,127.0 L1597.2,125.0 L1598.2,123.4 L1599.2,122.3 L1600.2,121.7 L1601.2,121.5 L1602.2,121.4 L1603.2,121.3 L1604.2,121.2 L1605.2,121.0 L1606.2,120.8 L1607.2,120.6 L1608.2,120.2 L1609.2,119.7 L1610.2,119.1 L1611.2,118.4 L1612.2,117.7 L1613.2,116.9 L1614.2,116.1 L1615.2,115.3 L1616.2,114.4 L1617.2,113.2 L1618.2,112.0 L1619.2,110.7 L1620.2,109.4 L1621.2,108.1 L1622.2,107.0 L1623.2,106.0 L1624.2,105.2 L1625.2,104.6 L1626.2,104.2 L1627.2,103.7 L1628.2,103.1 L1629.2,102.3 L1630.2,100.9 L1631.2,98.8 L1632.2,96.6 L1633.2,94.4 L1634.2,92.6 L1635.2,91.7 L1636.2,91.6 L1637.2,91.8 L1638.2,92.0 L1639.2,92.2 L1640.2,92.5 L1641.2,92.6 L1642.2,92.7 L1643.2,92.4 L1644.2,91.8 L1645.2,90.9 L1646.2,90.1 L1647.2,89.4 L1648.2,89.0 L1649.2,89.0 L1650.2,89.2 L1651.2,89.5 L1652.2,89.9 L1653.2,90.4 L1654.3,90.9 L1655.3,91.5 L1656.3,92.1 L1657.3,92.7 L1658.3,93.5 L1659.3,94.3 L1660.3,95.3 L1661.3,96.5 L1662.3,97.7 L1663.3,99.0 L1664.3,100.3 L1665.3,101.7 L1666.3,103.0 L1667.3,104.6 L1668.3,106.2 L1669.3,107.9 L1670.3,109.8 L1671.3,111.6 L1672.3,113.5 L1673.3,115.3 L1674.3,117.1 L1675.3,118.9 L1676.3,121.0 L1677.3,123.3 L1678.3,125.4 L1679.3,127.4 L1680.3,129.0 L1681.3,130.1 L1682.3,130.6 L1683.3,130.7 L1684.3,130.9 L1685.3,131.0 L1686.3,131.0 L1687.3,131.1 L1688.3,131.2 L1689.3,131.3 L1690.3,131.5 L1691.3,132.0 L1692.3,133.9 L1693.3,136.7 L1694.3,139.9 L1695.3,142.8 L1696.3,144.9 L1697.3,145.6 L1698.3,145.5 L1699.3,145.4 L1700.3,145.2 L1701.3,145.0 L1702.3,144.8 L1703.3,144.6 L1704.3,144.5 L1705.3,144.7 L1706.3,146.0 L1707.3,147.9 L1708.3,150.1 L1709.3,152.2 L1710.3,153.7 L1711.3,154.2 L1712.3,154.1 L1713.3,153.8 L1714.3,153.4 L1715.3,153.0 L1716.3,152.6 L1717.3,152.3 L1718.3,152.1 L1719.3,152.6 L1720.3,155.0 L1721.3,158.3 L1722.3,161.0 L1723.3,161.8 L1724.3,161.3 L1725.3,160.4 L1726.3,159.2 L1727.3,158.0 L1728.3,156.7 L1729.3,155.8 L1730.3,155.3 L1731.3,155.6 L1732.3,156.8 L1733.3,158.8 L1734.3,161.1 L1735.3,163.4 L1736.3,165.4 L1737.3,166.8 L1738.3,167.2 L1739.3,166.8 L1740.3,166.0 L1741.3,164.9 L1742.3,163.5 L1743.3,162.0 L1744.3,160.6 L1745.3,159.3 L1746.3,158.3 L1747.3,157.7 L1748.3,157.7 L1749.3,158.6 L1750.3,160.2 L1751.3,162.2 L1752.3,164.6 L1753.3,166.9 L1754.3,169.0 L1755.3,170.6 L1756.3,171.5 L1757.3,171.5 L1758.3,170.8 L1759.3,169.6 L1760.3,168.0 L1761.3,166.1 L1762.3,164.1 L1763.3,162.2 L1764.3,160.5 L1765.3,159.1 L1766.3,158.1 L1767.3,157.8 L1768.3,158.1 L1769.3,158.8 L1770.3,159.9 L1771.3,161.3 L1772.3,162.9 L1773.3,164.6 L1774.3,166.3 L1775.3,168.0 L1776.4,169.6 L1777.4,170.9 L1778.4,172.0 L1779.4,172.7 L1780.4,172.9 L1781.4,172.6 L1782.4,171.9 L1783.4,170.8 L1784.4,169.4 L1785.4,167.8 L1786.4,166.0 L1787.4,164.3 L1788.4,162.6 L1789.4,161.0 L1790.4,159.7 L1791.4,158.6 L1792.4,158.0 L1793.4,157.8 L1794.4,158.1 L1795.4,158.7 L1796.4,159.7 L1797.4,161.0 L1798.4,162.4 L1799.4,164.1 L1800.4,165.9 L1801.4,167.7 L1802.4,169.6 L1803.4,171.4 L1804.4,173.2 L1805.4,174.8 L1806.4,176.3 L1807.4,177.5 L1808.4,178.5 L1809.4,179.1 L1810.4,179.4 L1811.4,179.3 L1812.4,179.0 L1813.4,178.4 L1814.4,177.7 L1815.4,176.9 L1816.4,176.0 L1817.4,175.0 L1818.4,174.0 L1819.4,173.0 L1820.4,172.0 L1821.4,171.1 L1822.4,170.4 L1823.4,169.8 L1824.4,169.4 L1825.4,169.2 L1826.4,169.3 L1827.4,169.6 L1828.4,170.1 L1829.4,170.8 L1830.4,171.7 L1831.4,172.7 L1832.4,173.8 L1833.4,175.1 L1834.4,176.4 L1835.4,177.9 L1836.4,179.3 L1837.4,180.9 L1838.4,182.4 L1839.4,183.9 L1840.4,185.4 L1841.4,186.8 L1842.4,188.2 L1843.4,189.5 L1844.4,190.7 L1845.4,191.8 L1846.4,192.7 L1847.4,193.4 L1848.4,194.0 L1849.4,194.4 L1850.4,194.5 L1851.4,194.4 L1852.4,194.2 L1853.4,193.8 L1854.4,193.3 L1855.4,192.6 L1856.4,191.9 L1857.4,191.1 L1858.4,190.3 L1859.4,189.4 L1860.4,188.6 L1861.4,187.7 L1862.4,186.9 L1863.4,186.2 L1864.4,185.5 L1865.4,184.9 L1866.4,184.5 L1867.4,184.2 L1868.4,184.0 L1869.4,184.0 L1870.4,184.2 L1871.4,184.5 L1872.4,184.9 L1873.4,185.3 L1874.4,185.9 L1875.4,186.5 L1876.4,187.1 L1877.4,187.8 L1878.4,188.7 L1879.4,189.9 L1880.4,191.3 L1881.4,192.8 L1882.4,194.4 L1883.4,196.0 L1884.4,197.7 L1885.4,199.6 L1886.4,201.8 L1887.4,204.2 L1888.4,206.7 L1889.4,209.1 L1890.4,211.4 L1891.4,213.5 L1892.4,215.3 L1893.4,217.0 L1894.4,218.7 L1895.4,220.3 L1896.4,221.8 L1897.4,223.2 L1898.4,224.5 L1899.5,225.6 L1900.5,226.5 L1901.5,227.2 L1902.5,227.8 L1903.5,228.4 L1904.5,229.0 L1905.5,229.6 L1906.5,230.1 L1907.5,230.5 L1908.5,230.9 L1909.5,231.1 L1910.5,231.3 L1911.5,231.4 L1912.5,231.4 L1913.5,231.3 L1914.5,231.1 L1915.5,230.9 L1916.5,230.6 L1917.5,230.3 L1918.5,229.9 L1919.5,229.5 L1920.5,229.1 L1921.5,228.7 L1922.5,228.3 L1923.5,227.8 L1924.5,227.4 L1925.5,227.0 L1926.5,226.6 L1927.5,226.2 L1928.5,225.9 L1929.5,225.6 L1930.5,225.4 L1931.5,225.2 L1932.5,225.1 L1933.5,225.1 L1934.5,225.2 L1935.5,225.3 L1936.5,225.6 L1937.5,225.9 L1938.5,226.3 L1939.5,226.8 L1940.5,227.3 L1941.5,227.8 L1942.5,228.4 L1943.5,229.1 L1944.5,229.7 L1945.5,230.4 L1946.5,231.1 L1947.5,231.8 L1948.5,232.5 L1949.5,233.2 L1950.5,233.9 L1951.5,234.7 L1952.5,235.5 L1953.5,236.4 L1954.5,237.3 L1955.5,238.3 L1956.5,239.4 L1957.5,240.5 L1958.5,241.6 L1959.5,242.7 L1960.5,243.9"/>
<line class="c" style="stroke-width:6.5" stroke="#2a4f7e" x1="1745.9" y1="372.2" x2="1825.2" y2="372.2"/>
<text class="lg" transform="translate(1834.0,381.9) scale(1,1.035)">B1F3S1</text>
<line class="c" style="stroke-width:6.5" stroke="#7f2b29" x1="1745.9" y1="407.4" x2="1825.2" y2="407.4"/>
<text class="lg" transform="translate(1834.0,416.9) scale(1,1.035)">B1F3S2</text>
<line class="c" style="stroke-width:6.5" stroke="#61782f" x1="1745.9" y1="442.2" x2="1825.2" y2="442.2"/>
<text class="lg" transform="translate(1834.0,451.9) scale(1,1.035)">B1F3S3</text>
<text class="tk" transform="translate(1441.0,479.2) scale(1,1.04)" text-anchor="end">0</text>
<text class="tk" transform="translate(1439.6,330.0) scale(1,1.04)" text-anchor="end">20</text>
<text class="tk" transform="translate(1439.6,180.9) scale(1,1.04)" text-anchor="end">40</text>
<text class="tk" transform="translate(1439.6,31.7) scale(1,1.04)" text-anchor="end">60</text>
<text class="tk" transform="translate(1461.5,516.8) scale(1,1.04)" text-anchor="middle">0</text>
<text class="tk" transform="translate(1583.7,516.8) scale(1,1.04)" text-anchor="middle">5</text>
<text class="tk" transform="translate(1708.0,516.8) scale(1,1.04)" text-anchor="middle">10</text>
<text class="tk" transform="translate(1828.6,516.8) scale(1,1.04)" text-anchor="middle">15</text>
<text class="tk" transform="translate(1948.8,516.8) scale(1,1.04)" text-anchor="middle">20</text>
<text class="ti" transform="translate(1712.8,561.1) scale(1,1.03)" text-anchor="middle">Speed [knots]</text>
<text class="yt" transform="translate(1376.3,244.60) rotate(-90) scale(0.98,1.05)" text-anchor="middle">Wave Resistance Coeff. [×10<tspan dy="-13" style="font-size:21.5px">3</tspan><tspan dy="13">]</tspan></text>
<text class="cap" transform="translate(1713.0,635.9) scale(1,1.05)" text-anchor="middle"><tspan dy="1.7" style="font-size:43px">[</tspan><tspan dy="-1.7">c</tspan><tspan dy="1.7" style="font-size:43px">]</tspan></text>
</g>
</svg></body></html>
